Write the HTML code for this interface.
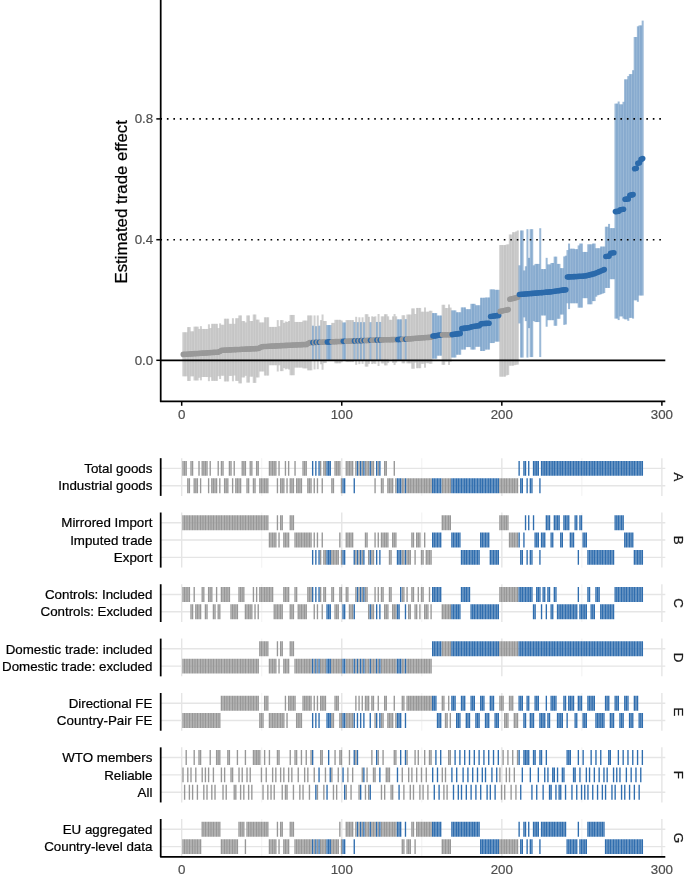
<!DOCTYPE html>
<html lang="en"><head><meta charset="utf-8"><title>Specification curve</title>
<style>html,body{margin:0;padding:0;background:#fff}svg{display:block}text{font-family:"Liberation Sans", Arial, Helvetica, sans-serif}.tk{font-size:13.33px;fill:#4D4D4D;stroke:#4D4D4D;stroke-width:0.18px}.lb{font-size:13.33px;fill:#000;stroke:#000;stroke-width:0.22px}.st{font-size:13.33px;fill:#1a1a1a;stroke:#1a1a1a;stroke-width:0.25px}.ti{font-size:16.85px;fill:#000;stroke:#000;stroke-width:0.22px}</style></head><body>
<svg width="685" height="875" viewBox="0 0 685 875">
<rect width="685" height="875" fill="#fff"/>
<g id="ci">
<g fill="#999999" fill-opacity="0.47">
<rect x="182.3" y="332.23" width="2" height="44.12"/>
<rect x="183.9" y="332.23" width="2" height="44.12"/>
<rect x="185.5" y="332.23" width="2" height="44.12"/>
<rect x="187.1" y="327.09" width="2" height="53.88"/>
<rect x="188.7" y="327.09" width="2" height="53.88"/>
<rect x="190.3" y="331.3" width="2" height="45.05"/>
<rect x="191.9" y="331.3" width="2" height="45.05"/>
<rect x="193.5" y="326.63" width="2" height="53.87"/>
<rect x="195.11" y="326.63" width="2" height="53.87"/>
<rect x="196.71" y="326.63" width="2" height="53.87"/>
<rect x="198.31" y="328.96" width="2" height="48.78"/>
<rect x="199.91" y="326.16" width="2" height="54.18"/>
<rect x="201.51" y="328.96" width="2" height="48.05"/>
<rect x="203.11" y="328.96" width="2" height="48.05"/>
<rect x="204.71" y="328.96" width="2" height="48.05"/>
<rect x="206.31" y="328.96" width="2" height="48.05"/>
<rect x="207.91" y="324.29" width="2" height="56.87"/>
<rect x="209.51" y="328.03" width="2" height="49.19"/>
<rect x="211.11" y="323.82" width="2" height="57.07"/>
<rect x="212.71" y="323.82" width="2" height="57.07"/>
<rect x="214.31" y="323.82" width="2" height="57.07"/>
<rect x="215.91" y="323.82" width="2" height="57.07"/>
<rect x="217.51" y="328.03" width="2" height="48.14"/>
<rect x="219.11" y="323.36" width="2" height="55.68"/>
<rect x="220.71" y="324.76" width="2" height="51"/>
<rect x="222.32" y="324.76" width="2" height="51"/>
<rect x="223.92" y="318.69" width="2" height="62.76"/>
<rect x="225.52" y="318.69" width="2" height="62.76"/>
<rect x="227.12" y="318.69" width="2" height="62.76"/>
<rect x="228.72" y="323.82" width="2" height="52.09"/>
<rect x="230.32" y="323.82" width="2" height="52.09"/>
<rect x="231.92" y="318.22" width="2" height="63.07"/>
<rect x="233.52" y="323.82" width="2" height="51.7"/>
<rect x="235.12" y="318.22" width="2" height="62.68"/>
<rect x="236.72" y="318.22" width="2" height="62.68"/>
<rect x="238.32" y="315.42" width="2" height="67.97"/>
<rect x="239.92" y="315.42" width="2" height="67.97"/>
<rect x="241.52" y="321.02" width="2" height="56.44"/>
<rect x="243.12" y="321.02" width="2" height="56.44"/>
<rect x="244.72" y="322.42" width="2" height="53.41"/>
<rect x="246.32" y="315.42" width="2" height="67.19"/>
<rect x="247.93" y="315.42" width="2" height="67.19"/>
<rect x="249.53" y="321.02" width="2" height="55.66"/>
<rect x="251.13" y="321.02" width="2" height="55.66"/>
<rect x="252.73" y="314.48" width="2" height="68.43"/>
<rect x="254.33" y="314.48" width="2" height="68.43"/>
<rect x="255.93" y="319.62" width="2" height="57.84"/>
<rect x="257.53" y="319.62" width="2" height="57.84"/>
<rect x="259.13" y="322.42" width="2" height="49.09"/>
<rect x="260.73" y="322.42" width="2" height="49.09"/>
<rect x="262.33" y="322.42" width="2" height="49.09"/>
<rect x="263.93" y="317.28" width="2" height="58.29"/>
<rect x="265.53" y="317.28" width="2" height="58.29"/>
<rect x="267.13" y="317.28" width="2" height="58.29"/>
<rect x="268.73" y="326.91" width="2" height="38.32"/>
<rect x="270.33" y="326.91" width="2" height="38.32"/>
<rect x="271.93" y="326.91" width="2" height="38.32"/>
<rect x="273.53" y="326.91" width="2" height="38.32"/>
<rect x="275.14" y="326.91" width="2" height="38.32"/>
<rect x="276.74" y="320.09" width="2" height="51.42"/>
<rect x="278.34" y="326.16" width="2" height="39.12"/>
<rect x="279.94" y="320.09" width="2" height="51.04"/>
<rect x="281.54" y="320.09" width="2" height="51.04"/>
<rect x="283.14" y="322.89" width="2" height="45.2"/>
<rect x="284.74" y="321.49" width="2" height="47.84"/>
<rect x="286.34" y="321.96" width="2" height="46.75"/>
<rect x="287.94" y="321.02" width="2" height="48.47"/>
<rect x="289.54" y="314.95" width="2" height="60.3"/>
<rect x="291.14" y="314.95" width="2" height="60.3"/>
<rect x="292.74" y="314.95" width="2" height="60.3"/>
<rect x="294.34" y="321.96" width="2" height="45.67"/>
<rect x="295.94" y="321.96" width="2" height="45.67"/>
<rect x="297.54" y="321.96" width="2" height="45.67"/>
<rect x="299.14" y="321.96" width="2" height="45.67"/>
<rect x="300.75" y="321.96" width="2" height="45.67"/>
<rect x="302.35" y="320.55" width="2" height="47.85"/>
<rect x="303.95" y="320.55" width="2" height="47.85"/>
<rect x="305.55" y="320.55" width="2" height="47.85"/>
<rect x="307.15" y="315.42" width="2" height="54.93"/>
<rect x="308.75" y="315.42" width="2" height="54.93"/>
<rect x="310.35" y="315.42" width="2" height="54.93"/>
</g>
<g fill="#2B6AAB" fill-opacity="0.47">
<rect x="311.95" y="325.69" width="2" height="34.21"/>
</g>
<g fill="#999999" fill-opacity="0.47">
<rect x="313.55" y="315.42" width="2" height="54.01"/>
</g>
<g fill="#2B6AAB" fill-opacity="0.47">
<rect x="315.15" y="326.16" width="2" height="33.74"/>
</g>
<g fill="#999999" fill-opacity="0.47">
<rect x="316.75" y="315.42" width="2" height="53.77"/>
</g>
<g fill="#2B6AAB" fill-opacity="0.47">
<rect x="318.35" y="325.69" width="2" height="34.21"/>
</g>
<g fill="#999999" fill-opacity="0.47">
<rect x="319.95" y="320.09" width="2" height="44.18"/>
<rect x="321.55" y="314.48" width="2" height="55.28"/>
<rect x="323.15" y="321.02" width="2" height="42.02"/>
<rect x="324.75" y="321.02" width="2" height="42.02"/>
</g>
<g fill="#2B6AAB" fill-opacity="0.47">
<rect x="326.35" y="325.04" width="2" height="34.86"/>
<rect x="327.96" y="325.04" width="2" height="34.86"/>
<rect x="329.56" y="325.04" width="2" height="34.86"/>
</g>
<g fill="#999999" fill-opacity="0.47">
<rect x="331.16" y="322.89" width="2" height="37.68"/>
<rect x="332.76" y="322.89" width="2" height="37.68"/>
<rect x="334.36" y="319.81" width="2" height="43.49"/>
<rect x="335.96" y="319.81" width="2" height="43.49"/>
<rect x="337.56" y="319.81" width="2" height="43.49"/>
<rect x="339.16" y="319.81" width="2" height="43.49"/>
<rect x="340.76" y="320.55" width="2" height="41.69"/>
</g>
<g fill="#2B6AAB" fill-opacity="0.47">
<rect x="342.36" y="322.42" width="2" height="37.48"/>
<rect x="343.96" y="322.42" width="2" height="37.48"/>
</g>
<g fill="#999999" fill-opacity="0.47">
<rect x="345.56" y="320.09" width="2" height="41.99"/>
<rect x="347.16" y="320.09" width="2" height="41.99"/>
<rect x="348.76" y="320.09" width="2" height="41.99"/>
<rect x="350.36" y="320.09" width="2" height="41.99"/>
<rect x="351.96" y="320.09" width="2" height="41.99"/>
</g>
<g fill="#2B6AAB" fill-opacity="0.47">
<rect x="353.56" y="321.96" width="2" height="37.94"/>
</g>
<g fill="#999999" fill-opacity="0.47">
<rect x="355.17" y="316.82" width="2" height="48.03"/>
</g>
<g fill="#2B6AAB" fill-opacity="0.47">
<rect x="356.77" y="322.14" width="2" height="37.76"/>
</g>
<g fill="#999999" fill-opacity="0.47">
<rect x="358.37" y="317.28" width="2" height="46.84"/>
</g>
<g fill="#2B6AAB" fill-opacity="0.47">
<rect x="359.97" y="322.14" width="2" height="37.76"/>
</g>
<g fill="#999999" fill-opacity="0.47">
<rect x="361.57" y="317.28" width="2" height="46.59"/>
</g>
<g fill="#2B6AAB" fill-opacity="0.47">
<rect x="363.17" y="322.14" width="2" height="37.76"/>
</g>
<g fill="#999999" fill-opacity="0.47">
<rect x="364.77" y="314.2" width="2" height="52.44"/>
<rect x="366.37" y="314.2" width="2" height="52.44"/>
<rect x="367.97" y="316.82" width="2" height="47.02"/>
</g>
<g fill="#2B6AAB" fill-opacity="0.47">
<rect x="369.57" y="322.14" width="2" height="37.76"/>
</g>
<g fill="#999999" fill-opacity="0.47">
<rect x="371.17" y="316.35" width="2" height="47.7"/>
<rect x="372.77" y="316.82" width="2" height="46.67"/>
<rect x="374.37" y="316.35" width="2" height="47.51"/>
</g>
<g fill="#2B6AAB" fill-opacity="0.47">
<rect x="375.97" y="321.96" width="2" height="37.94"/>
</g>
<g fill="#999999" fill-opacity="0.47">
<rect x="377.57" y="314.01" width="2" height="51.99"/>
</g>
<g fill="#2B6AAB" fill-opacity="0.47">
<rect x="379.17" y="321.96" width="2" height="37.94"/>
</g>
<g fill="#999999" fill-opacity="0.47">
<rect x="380.77" y="316.35" width="2" height="47.08"/>
<rect x="382.38" y="316.35" width="2" height="47.08"/>
<rect x="383.98" y="314.2" width="2" height="51.19"/>
<rect x="385.58" y="314.2" width="2" height="51.19"/>
<rect x="387.18" y="316.35" width="2" height="46.75"/>
<rect x="388.78" y="319.81" width="2" height="39.69"/>
<rect x="390.38" y="319.81" width="2" height="39.69"/>
<rect x="391.98" y="316.35" width="2" height="46.46"/>
<rect x="393.58" y="314.01" width="2" height="51.04"/>
<rect x="395.18" y="316.35" width="2" height="46.27"/>
</g>
<g fill="#2B6AAB" fill-opacity="0.47">
<rect x="396.78" y="319.34" width="2" height="40.56"/>
<rect x="398.38" y="319.34" width="2" height="40.56"/>
<rect x="399.98" y="319.34" width="2" height="40.56"/>
</g>
<g fill="#999999" fill-opacity="0.47">
<rect x="401.58" y="315.23" width="2" height="48.08"/>
<rect x="403.18" y="315.23" width="2" height="48.08"/>
</g>
<g fill="#2B6AAB" fill-opacity="0.47">
<rect x="404.78" y="319.15" width="2" height="40.75"/>
</g>
<g fill="#999999" fill-opacity="0.47">
<rect x="406.38" y="314.48" width="2" height="48.88"/>
<rect x="407.99" y="314.48" width="2" height="48.88"/>
<rect x="409.59" y="314.48" width="2" height="48.88"/>
<rect x="411.19" y="308.41" width="2" height="60.32"/>
<rect x="412.79" y="308.41" width="2" height="60.32"/>
<rect x="414.39" y="314.01" width="2" height="48.69"/>
<rect x="415.99" y="307.94" width="2" height="60.28"/>
<rect x="417.59" y="307.94" width="2" height="60.28"/>
<rect x="419.19" y="307.94" width="2" height="60.28"/>
<rect x="420.79" y="311.68" width="2" height="52.14"/>
<rect x="422.39" y="311.68" width="2" height="52.14"/>
<rect x="423.99" y="307.47" width="2" height="60.25"/>
<rect x="425.59" y="311.68" width="2" height="51.54"/>
<rect x="427.19" y="311.68" width="2" height="51.54"/>
<rect x="428.79" y="310.74" width="2" height="53.01"/>
<rect x="430.39" y="310.74" width="2" height="53.01"/>
</g>
<g fill="#2B6AAB" fill-opacity="0.47">
<rect x="431.99" y="313.08" width="2" height="45.64"/>
<rect x="433.59" y="313.08" width="2" height="45.64"/>
<rect x="435.2" y="313.08" width="2" height="45.64"/>
<rect x="436.8" y="315.5" width="2" height="40.18"/>
<rect x="438.4" y="315.5" width="2" height="40.18"/>
<rect x="440" y="315.5" width="2" height="40.18"/>
</g>
<g fill="#999999" fill-opacity="0.47">
<rect x="441.6" y="304.76" width="2" height="60.06"/>
<rect x="443.2" y="304.76" width="2" height="60.06"/>
<rect x="444.8" y="308.03" width="2" height="53.44"/>
<rect x="446.4" y="308.03" width="2" height="53.44"/>
<rect x="448" y="304.48" width="2" height="60.48"/>
<rect x="449.6" y="307.56" width="2" height="54.28"/>
</g>
<g fill="#2B6AAB" fill-opacity="0.47">
<rect x="451.2" y="310.36" width="2" height="47.18"/>
<rect x="452.8" y="310.36" width="2" height="47.18"/>
<rect x="454.4" y="310.36" width="2" height="47.18"/>
<rect x="456" y="312.23" width="2" height="42.51"/>
<rect x="457.6" y="312.23" width="2" height="42.51"/>
<rect x="459.2" y="312.23" width="2" height="42.51"/>
<rect x="460.81" y="307.38" width="2" height="42.23"/>
<rect x="462.41" y="307.38" width="2" height="42.23"/>
<rect x="464.01" y="307.38" width="2" height="42.23"/>
<rect x="465.61" y="309.15" width="2" height="37.93"/>
<rect x="467.21" y="309.15" width="2" height="37.93"/>
<rect x="468.81" y="309.15" width="2" height="37.93"/>
<rect x="470.41" y="303.82" width="2" height="45.78"/>
<rect x="472.01" y="303.82" width="2" height="45.78"/>
<rect x="473.61" y="303.82" width="2" height="45.78"/>
<rect x="475.21" y="305.23" width="2" height="41.58"/>
<rect x="476.81" y="305.23" width="2" height="41.58"/>
<rect x="478.41" y="305.23" width="2" height="41.58"/>
<rect x="480.01" y="297.75" width="2" height="53.26"/>
<rect x="481.61" y="297.75" width="2" height="53.26"/>
<rect x="483.21" y="297.75" width="2" height="53.26"/>
<rect x="484.81" y="297.47" width="2" height="52.13"/>
<rect x="486.41" y="297.47" width="2" height="52.13"/>
<rect x="488.02" y="297.47" width="2" height="52.13"/>
<rect x="489.62" y="289.34" width="2" height="53.72"/>
<rect x="491.22" y="289.34" width="2" height="53.72"/>
<rect x="492.82" y="289.34" width="2" height="53.72"/>
<rect x="494.42" y="289.81" width="2" height="51.85"/>
<rect x="496.02" y="289.81" width="2" height="51.85"/>
<rect x="497.62" y="289.81" width="2" height="51.85"/>
</g>
<g fill="#999999" fill-opacity="0.47">
<rect x="499.22" y="245.04" width="2" height="131.64"/>
<rect x="500.82" y="245.04" width="2" height="131.64"/>
<rect x="502.42" y="245.04" width="2" height="131.64"/>
<rect x="504.02" y="245.04" width="2" height="131.64"/>
<rect x="505.62" y="244.48" width="2" height="130.96"/>
<rect x="507.22" y="244.29" width="2" height="130.62"/>
<rect x="508.82" y="234.48" width="2" height="131.22"/>
<rect x="510.42" y="234.48" width="2" height="131.22"/>
<rect x="512.02" y="232.15" width="2" height="133.55"/>
<rect x="513.62" y="232.15" width="2" height="133.05"/>
<rect x="515.23" y="231.4" width="2" height="133.4"/>
<rect x="516.83" y="230.46" width="2" height="134.14"/>
</g>
<g fill="#2B6AAB" fill-opacity="0.47">
<rect x="518.43" y="265.31" width="2" height="58.13"/>
<rect x="520.03" y="230.46" width="2" height="127.08"/>
<rect x="521.63" y="230.46" width="2" height="127.08"/>
<rect x="523.23" y="270.45" width="2" height="46.92"/>
<rect x="524.83" y="266.25" width="2" height="54.86"/>
<rect x="526.43" y="229.16" width="2" height="128.39"/>
<rect x="528.03" y="257.84" width="2" height="70.28"/>
<rect x="529.63" y="229.16" width="2" height="127.92"/>
<rect x="531.23" y="229.16" width="2" height="127.92"/>
<rect x="532.83" y="265.31" width="2" height="55.8"/>
<rect x="534.43" y="263.91" width="2" height="58.13"/>
<rect x="536.03" y="263.91" width="2" height="58.13"/>
<rect x="537.63" y="263.91" width="2" height="58.13"/>
<rect x="539.23" y="228.22" width="2" height="128.86"/>
<rect x="540.84" y="269.05" width="2" height="46.45"/>
<rect x="542.44" y="269.05" width="2" height="46.45"/>
<rect x="544.04" y="269.05" width="2" height="46.45"/>
<rect x="545.64" y="257.84" width="2" height="68.88"/>
<rect x="547.24" y="264.38" width="2" height="55.8"/>
<rect x="548.84" y="264.38" width="2" height="55.8"/>
<rect x="550.44" y="262.98" width="2" height="57.2"/>
<rect x="552.04" y="262.98" width="2" height="57.2"/>
<rect x="553.64" y="256.62" width="2" height="69.16"/>
<rect x="555.24" y="256.62" width="2" height="69.16"/>
<rect x="556.84" y="263.91" width="2" height="54.86"/>
<rect x="558.44" y="263.91" width="2" height="54.86"/>
<rect x="560.04" y="268.12" width="2" height="46.45"/>
<rect x="561.64" y="268.12" width="2" height="46.45"/>
<rect x="563.24" y="256.44" width="2" height="68.41"/>
<rect x="564.84" y="255.68" width="2" height="68.77"/>
<rect x="566.44" y="250.07" width="2" height="53.21"/>
<rect x="568.05" y="243.53" width="2" height="65.59"/>
<rect x="569.65" y="248.67" width="2" height="54.61"/>
<rect x="571.25" y="248.67" width="2" height="54.61"/>
<rect x="572.85" y="248.67" width="2" height="54.61"/>
<rect x="574.45" y="249.14" width="2" height="54.15"/>
<rect x="576.05" y="249.14" width="2" height="54.15"/>
<rect x="577.65" y="245.4" width="2" height="62.26"/>
<rect x="579.25" y="243.53" width="2" height="64.13"/>
<rect x="580.85" y="243.53" width="2" height="64.13"/>
<rect x="582.45" y="251.94" width="2" height="46.23"/>
<rect x="584.05" y="251.94" width="2" height="46.23"/>
<rect x="585.65" y="251.94" width="2" height="46.23"/>
<rect x="587.25" y="244.28" width="2" height="60.03"/>
<rect x="588.85" y="244.28" width="2" height="60.03"/>
<rect x="590.45" y="244.28" width="2" height="60.03"/>
<rect x="592.05" y="243.53" width="2" height="57.56"/>
<rect x="593.65" y="243.53" width="2" height="57.56"/>
<rect x="595.26" y="248.2" width="2" height="48.51"/>
<rect x="596.86" y="248.2" width="2" height="47.05"/>
<rect x="598.46" y="248.2" width="2" height="46.61"/>
<rect x="600.06" y="246.52" width="2" height="47.71"/>
<rect x="601.66" y="246.52" width="2" height="47.13"/>
<rect x="603.26" y="246.52" width="2" height="46.54"/>
<rect x="604.86" y="226.72" width="2" height="61.24"/>
<rect x="606.46" y="226.72" width="2" height="61.24"/>
<rect x="608.06" y="223.91" width="2" height="64.04"/>
<rect x="609.66" y="228.12" width="2" height="51.08"/>
<rect x="611.26" y="228.12" width="2" height="51.08"/>
<rect x="612.86" y="228.12" width="2" height="51.08"/>
<rect x="614.46" y="103.6" width="2" height="215.01"/>
<rect x="616.06" y="103.6" width="2" height="215.01"/>
<rect x="617.66" y="101.5" width="2" height="218.57"/>
<rect x="619.26" y="104.3" width="2" height="212.12"/>
<rect x="620.87" y="104.3" width="2" height="212.12"/>
<rect x="622.47" y="101.8" width="2" height="216.81"/>
<rect x="624.07" y="79.3" width="2" height="240.04"/>
<rect x="625.67" y="79.3" width="2" height="240.04"/>
<rect x="627.27" y="76.1" width="2" height="244.7"/>
<rect x="628.87" y="74.1" width="2" height="243.78"/>
<rect x="630.47" y="74.1" width="2" height="243.78"/>
<rect x="632.07" y="70.2" width="2" height="248.41"/>
<rect x="633.67" y="37" width="2" height="263.36"/>
<rect x="635.27" y="37" width="2" height="263.36"/>
<rect x="636.87" y="26.3" width="2" height="275.52"/>
<rect x="638.47" y="25.4" width="2" height="270.15"/>
<rect x="640.07" y="25.4" width="2" height="270.15"/>
<rect x="641.67" y="20.6" width="2" height="274.95"/>
</g></g>
<line x1="160.7" x2="665.3" y1="360.3" y2="360.3" stroke="#000" stroke-width="1.75"/>
<line x1="160.7" x2="665.3" y1="239.7" y2="239.7" stroke="#000" stroke-width="1.62" stroke-dasharray="1.62 4.859" stroke-dashoffset="-6.19"/>
<line x1="160.7" x2="665.3" y1="118.9" y2="118.9" stroke="#000" stroke-width="1.62" stroke-dasharray="1.62 4.859" stroke-dashoffset="-6.19"/>
<g id="pts">
<circle cx="183.3" cy="354.4" r="2.8" fill="#999999"/>
<circle cx="184.9" cy="354.3" r="2.8" fill="#999999"/>
<circle cx="186.5" cy="354.19" r="2.8" fill="#999999"/>
<circle cx="188.1" cy="354.09" r="2.8" fill="#999999"/>
<circle cx="189.7" cy="353.98" r="2.8" fill="#999999"/>
<circle cx="191.3" cy="353.88" r="2.8" fill="#999999"/>
<circle cx="192.9" cy="353.77" r="2.8" fill="#999999"/>
<circle cx="194.5" cy="353.67" r="2.8" fill="#999999"/>
<circle cx="196.11" cy="353.56" r="2.8" fill="#999999"/>
<circle cx="197.71" cy="353.46" r="2.8" fill="#999999"/>
<circle cx="199.31" cy="353.35" r="2.8" fill="#999999"/>
<circle cx="200.91" cy="353.25" r="2.8" fill="#999999"/>
<circle cx="202.51" cy="353.15" r="2.8" fill="#999999"/>
<circle cx="204.11" cy="353.04" r="2.8" fill="#999999"/>
<circle cx="205.71" cy="352.94" r="2.8" fill="#999999"/>
<circle cx="207.31" cy="352.83" r="2.8" fill="#999999"/>
<circle cx="208.91" cy="352.73" r="2.8" fill="#999999"/>
<circle cx="210.51" cy="352.62" r="2.8" fill="#999999"/>
<circle cx="212.11" cy="352.52" r="2.8" fill="#999999"/>
<circle cx="213.71" cy="352.41" r="2.8" fill="#999999"/>
<circle cx="215.31" cy="352.31" r="2.8" fill="#999999"/>
<circle cx="216.91" cy="352.2" r="2.8" fill="#999999"/>
<circle cx="218.51" cy="352.1" r="2.8" fill="#999999"/>
<circle cx="220.11" cy="351.2" r="2.8" fill="#999999"/>
<circle cx="221.71" cy="350.3" r="2.8" fill="#999999"/>
<circle cx="223.32" cy="350.22" r="2.8" fill="#999999"/>
<circle cx="224.92" cy="350.14" r="2.8" fill="#999999"/>
<circle cx="226.52" cy="350.07" r="2.8" fill="#999999"/>
<circle cx="228.12" cy="349.99" r="2.8" fill="#999999"/>
<circle cx="229.72" cy="349.91" r="2.8" fill="#999999"/>
<circle cx="231.32" cy="349.83" r="2.8" fill="#999999"/>
<circle cx="232.92" cy="349.75" r="2.8" fill="#999999"/>
<circle cx="234.52" cy="349.67" r="2.8" fill="#999999"/>
<circle cx="236.12" cy="349.6" r="2.8" fill="#999999"/>
<circle cx="237.72" cy="349.52" r="2.8" fill="#999999"/>
<circle cx="239.32" cy="349.44" r="2.8" fill="#999999"/>
<circle cx="240.92" cy="349.36" r="2.8" fill="#999999"/>
<circle cx="242.52" cy="349.28" r="2.8" fill="#999999"/>
<circle cx="244.12" cy="349.2" r="2.8" fill="#999999"/>
<circle cx="245.72" cy="349.13" r="2.8" fill="#999999"/>
<circle cx="247.32" cy="349.05" r="2.8" fill="#999999"/>
<circle cx="248.93" cy="348.97" r="2.8" fill="#999999"/>
<circle cx="250.53" cy="348.89" r="2.8" fill="#999999"/>
<circle cx="252.13" cy="348.81" r="2.8" fill="#999999"/>
<circle cx="253.73" cy="348.73" r="2.8" fill="#999999"/>
<circle cx="255.33" cy="348.66" r="2.8" fill="#999999"/>
<circle cx="256.93" cy="348.58" r="2.8" fill="#999999"/>
<circle cx="258.53" cy="348.5" r="2.8" fill="#999999"/>
<circle cx="260.13" cy="347.6" r="2.8" fill="#999999"/>
<circle cx="261.73" cy="346.7" r="2.8" fill="#999999"/>
<circle cx="263.33" cy="346.61" r="2.8" fill="#999999"/>
<circle cx="264.93" cy="346.52" r="2.8" fill="#999999"/>
<circle cx="266.53" cy="346.43" r="2.8" fill="#999999"/>
<circle cx="268.13" cy="346.34" r="2.8" fill="#999999"/>
<circle cx="269.73" cy="346.25" r="2.8" fill="#999999"/>
<circle cx="271.33" cy="346.16" r="2.8" fill="#999999"/>
<circle cx="272.93" cy="346.07" r="2.8" fill="#999999"/>
<circle cx="274.53" cy="345.98" r="2.8" fill="#999999"/>
<circle cx="276.14" cy="345.89" r="2.8" fill="#999999"/>
<circle cx="277.74" cy="345.8" r="2.8" fill="#999999"/>
<circle cx="279.34" cy="345.72" r="2.8" fill="#999999"/>
<circle cx="280.94" cy="345.64" r="2.8" fill="#999999"/>
<circle cx="282.54" cy="345.57" r="2.8" fill="#999999"/>
<circle cx="284.14" cy="345.49" r="2.8" fill="#999999"/>
<circle cx="285.74" cy="345.41" r="2.8" fill="#999999"/>
<circle cx="287.34" cy="345.33" r="2.8" fill="#999999"/>
<circle cx="288.94" cy="345.26" r="2.8" fill="#999999"/>
<circle cx="290.54" cy="345.18" r="2.8" fill="#999999"/>
<circle cx="292.14" cy="345.1" r="2.8" fill="#999999"/>
<circle cx="293.74" cy="345.02" r="2.8" fill="#999999"/>
<circle cx="295.34" cy="344.94" r="2.8" fill="#999999"/>
<circle cx="296.94" cy="344.87" r="2.8" fill="#999999"/>
<circle cx="298.54" cy="344.79" r="2.8" fill="#999999"/>
<circle cx="300.14" cy="344.71" r="2.8" fill="#999999"/>
<circle cx="301.75" cy="344.63" r="2.8" fill="#999999"/>
<circle cx="303.35" cy="344.56" r="2.8" fill="#999999"/>
<circle cx="304.95" cy="344.48" r="2.8" fill="#999999"/>
<circle cx="306.55" cy="344.4" r="2.8" fill="#999999"/>
<circle cx="308.15" cy="343.5" r="2.8" fill="#999999"/>
<circle cx="309.75" cy="342.6" r="2.8" fill="#999999"/>
<circle cx="311.35" cy="342.54" r="2.8" fill="#999999"/>
<circle cx="312.95" cy="342.48" r="2.8" fill="#2B6AAB"/>
<circle cx="314.55" cy="342.42" r="2.8" fill="#999999"/>
<circle cx="316.15" cy="342.36" r="2.8" fill="#2B6AAB"/>
<circle cx="317.75" cy="342.3" r="2.8" fill="#999999"/>
<circle cx="319.35" cy="342.24" r="2.8" fill="#2B6AAB"/>
<circle cx="320.95" cy="342.18" r="2.8" fill="#999999"/>
<circle cx="322.55" cy="342.12" r="2.8" fill="#999999"/>
<circle cx="324.15" cy="342.06" r="2.8" fill="#999999"/>
<circle cx="325.75" cy="342" r="2.8" fill="#999999"/>
<circle cx="327.35" cy="341.94" r="2.8" fill="#2B6AAB"/>
<circle cx="328.96" cy="341.88" r="2.8" fill="#2B6AAB"/>
<circle cx="330.56" cy="341.82" r="2.8" fill="#2B6AAB"/>
<circle cx="332.16" cy="341.76" r="2.8" fill="#999999"/>
<circle cx="333.76" cy="341.7" r="2.8" fill="#999999"/>
<circle cx="335.36" cy="341.64" r="2.8" fill="#999999"/>
<circle cx="336.96" cy="341.58" r="2.8" fill="#999999"/>
<circle cx="338.56" cy="341.52" r="2.8" fill="#999999"/>
<circle cx="340.16" cy="341.46" r="2.8" fill="#999999"/>
<circle cx="341.76" cy="341.4" r="2.8" fill="#999999"/>
<circle cx="343.36" cy="341.34" r="2.8" fill="#2B6AAB"/>
<circle cx="344.96" cy="341.27" r="2.8" fill="#2B6AAB"/>
<circle cx="346.56" cy="341.21" r="2.8" fill="#999999"/>
<circle cx="348.16" cy="341.15" r="2.8" fill="#999999"/>
<circle cx="349.76" cy="341.08" r="2.8" fill="#999999"/>
<circle cx="351.36" cy="341.02" r="2.8" fill="#999999"/>
<circle cx="352.96" cy="340.96" r="2.8" fill="#999999"/>
<circle cx="354.56" cy="340.89" r="2.8" fill="#2B6AAB"/>
<circle cx="356.17" cy="340.83" r="2.8" fill="#999999"/>
<circle cx="357.77" cy="340.77" r="2.8" fill="#2B6AAB"/>
<circle cx="359.37" cy="340.71" r="2.8" fill="#999999"/>
<circle cx="360.97" cy="340.64" r="2.8" fill="#2B6AAB"/>
<circle cx="362.57" cy="340.58" r="2.8" fill="#999999"/>
<circle cx="364.17" cy="340.52" r="2.8" fill="#2B6AAB"/>
<circle cx="365.77" cy="340.45" r="2.8" fill="#999999"/>
<circle cx="367.37" cy="340.39" r="2.8" fill="#999999"/>
<circle cx="368.97" cy="340.33" r="2.8" fill="#999999"/>
<circle cx="370.57" cy="340.26" r="2.8" fill="#2B6AAB"/>
<circle cx="372.17" cy="340.2" r="2.8" fill="#999999"/>
<circle cx="373.77" cy="340.15" r="2.8" fill="#999999"/>
<circle cx="375.37" cy="340.1" r="2.8" fill="#999999"/>
<circle cx="376.97" cy="340.06" r="2.8" fill="#2B6AAB"/>
<circle cx="378.57" cy="340.01" r="2.8" fill="#999999"/>
<circle cx="380.17" cy="339.96" r="2.8" fill="#2B6AAB"/>
<circle cx="381.77" cy="339.91" r="2.8" fill="#999999"/>
<circle cx="383.38" cy="339.87" r="2.8" fill="#999999"/>
<circle cx="384.98" cy="339.82" r="2.8" fill="#999999"/>
<circle cx="386.58" cy="339.77" r="2.8" fill="#999999"/>
<circle cx="388.18" cy="339.72" r="2.8" fill="#999999"/>
<circle cx="389.78" cy="339.68" r="2.8" fill="#999999"/>
<circle cx="391.38" cy="339.63" r="2.8" fill="#999999"/>
<circle cx="392.98" cy="339.58" r="2.8" fill="#999999"/>
<circle cx="394.58" cy="339.53" r="2.8" fill="#999999"/>
<circle cx="396.18" cy="339.49" r="2.8" fill="#999999"/>
<circle cx="397.78" cy="339.44" r="2.8" fill="#2B6AAB"/>
<circle cx="399.38" cy="339.39" r="2.8" fill="#2B6AAB"/>
<circle cx="400.98" cy="339.34" r="2.8" fill="#2B6AAB"/>
<circle cx="402.58" cy="339.3" r="2.8" fill="#999999"/>
<circle cx="404.18" cy="339.25" r="2.8" fill="#999999"/>
<circle cx="405.78" cy="339.2" r="2.8" fill="#2B6AAB"/>
<circle cx="407.38" cy="339.06" r="2.8" fill="#999999"/>
<circle cx="408.99" cy="338.92" r="2.8" fill="#999999"/>
<circle cx="410.59" cy="338.78" r="2.8" fill="#999999"/>
<circle cx="412.19" cy="338.64" r="2.8" fill="#999999"/>
<circle cx="413.79" cy="338.5" r="2.8" fill="#999999"/>
<circle cx="415.39" cy="338.36" r="2.8" fill="#999999"/>
<circle cx="416.99" cy="338.22" r="2.8" fill="#999999"/>
<circle cx="418.59" cy="338.08" r="2.8" fill="#999999"/>
<circle cx="420.19" cy="337.94" r="2.8" fill="#999999"/>
<circle cx="421.79" cy="337.8" r="2.8" fill="#999999"/>
<circle cx="423.39" cy="337.7" r="2.8" fill="#999999"/>
<circle cx="424.99" cy="337.6" r="2.8" fill="#999999"/>
<circle cx="426.59" cy="337.5" r="2.8" fill="#999999"/>
<circle cx="428.19" cy="337.4" r="2.8" fill="#999999"/>
<circle cx="429.79" cy="337.3" r="2.8" fill="#999999"/>
<circle cx="431.39" cy="337.2" r="2.8" fill="#999999"/>
<circle cx="432.99" cy="336" r="2.8" fill="#2B6AAB"/>
<circle cx="434.59" cy="335.9" r="2.8" fill="#2B6AAB"/>
<circle cx="436.2" cy="335.8" r="2.8" fill="#2B6AAB"/>
<circle cx="437.8" cy="335.2" r="2.8" fill="#2B6AAB"/>
<circle cx="439.4" cy="335.15" r="2.8" fill="#2B6AAB"/>
<circle cx="441" cy="335.1" r="2.8" fill="#2B6AAB"/>
<circle cx="442.6" cy="334.8" r="2.8" fill="#999999"/>
<circle cx="444.2" cy="334.78" r="2.8" fill="#999999"/>
<circle cx="445.8" cy="334.76" r="2.8" fill="#999999"/>
<circle cx="447.4" cy="334.74" r="2.8" fill="#999999"/>
<circle cx="449" cy="334.72" r="2.8" fill="#999999"/>
<circle cx="450.6" cy="334.7" r="2.8" fill="#999999"/>
<circle cx="452.2" cy="334.6" r="2.8" fill="#2B6AAB"/>
<circle cx="453.8" cy="334.36" r="2.8" fill="#2B6AAB"/>
<circle cx="455.4" cy="334.12" r="2.8" fill="#2B6AAB"/>
<circle cx="457" cy="333.88" r="2.8" fill="#2B6AAB"/>
<circle cx="458.6" cy="333.64" r="2.8" fill="#2B6AAB"/>
<circle cx="460.2" cy="333.4" r="2.8" fill="#2B6AAB"/>
<circle cx="461.81" cy="328.6" r="2.8" fill="#2B6AAB"/>
<circle cx="463.41" cy="328.38" r="2.8" fill="#2B6AAB"/>
<circle cx="465.01" cy="328.16" r="2.8" fill="#2B6AAB"/>
<circle cx="466.61" cy="327.94" r="2.8" fill="#2B6AAB"/>
<circle cx="468.21" cy="327.72" r="2.8" fill="#2B6AAB"/>
<circle cx="469.81" cy="327.5" r="2.8" fill="#2B6AAB"/>
<circle cx="471.41" cy="326.7" r="2.8" fill="#2B6AAB"/>
<circle cx="473.01" cy="326.48" r="2.8" fill="#2B6AAB"/>
<circle cx="474.61" cy="326.26" r="2.8" fill="#2B6AAB"/>
<circle cx="476.21" cy="326.04" r="2.8" fill="#2B6AAB"/>
<circle cx="477.81" cy="325.82" r="2.8" fill="#2B6AAB"/>
<circle cx="479.41" cy="325.6" r="2.8" fill="#2B6AAB"/>
<circle cx="481.01" cy="323.7" r="2.8" fill="#2B6AAB"/>
<circle cx="482.61" cy="323.6" r="2.8" fill="#2B6AAB"/>
<circle cx="484.21" cy="323.5" r="2.8" fill="#2B6AAB"/>
<circle cx="485.81" cy="323.4" r="2.8" fill="#2B6AAB"/>
<circle cx="487.41" cy="323.3" r="2.8" fill="#2B6AAB"/>
<circle cx="489.02" cy="323.2" r="2.8" fill="#2B6AAB"/>
<circle cx="490.62" cy="316.5" r="2.8" fill="#2B6AAB"/>
<circle cx="492.22" cy="316.28" r="2.8" fill="#2B6AAB"/>
<circle cx="493.82" cy="316.06" r="2.8" fill="#2B6AAB"/>
<circle cx="495.42" cy="315.84" r="2.8" fill="#2B6AAB"/>
<circle cx="497.02" cy="315.62" r="2.8" fill="#2B6AAB"/>
<circle cx="498.62" cy="315.4" r="2.8" fill="#2B6AAB"/>
<circle cx="500.22" cy="311.4" r="2.8" fill="#999999"/>
<circle cx="501.82" cy="311.04" r="2.8" fill="#999999"/>
<circle cx="503.42" cy="310.68" r="2.8" fill="#999999"/>
<circle cx="505.02" cy="310.32" r="2.8" fill="#999999"/>
<circle cx="506.62" cy="309.96" r="2.8" fill="#999999"/>
<circle cx="508.22" cy="309.6" r="2.8" fill="#999999"/>
<circle cx="509.82" cy="299.2" r="2.8" fill="#999999"/>
<circle cx="511.42" cy="298.82" r="2.8" fill="#999999"/>
<circle cx="513.02" cy="298.44" r="2.8" fill="#999999"/>
<circle cx="514.62" cy="298.06" r="2.8" fill="#999999"/>
<circle cx="516.23" cy="297.68" r="2.8" fill="#999999"/>
<circle cx="517.83" cy="297.3" r="2.8" fill="#999999"/>
<circle cx="519.43" cy="294.5" r="2.8" fill="#2B6AAB"/>
<circle cx="521.03" cy="294.36" r="2.8" fill="#2B6AAB"/>
<circle cx="522.63" cy="294.23" r="2.8" fill="#2B6AAB"/>
<circle cx="524.23" cy="294.09" r="2.8" fill="#2B6AAB"/>
<circle cx="525.83" cy="293.95" r="2.8" fill="#2B6AAB"/>
<circle cx="527.43" cy="293.82" r="2.8" fill="#2B6AAB"/>
<circle cx="529.03" cy="293.68" r="2.8" fill="#2B6AAB"/>
<circle cx="530.63" cy="293.54" r="2.8" fill="#2B6AAB"/>
<circle cx="532.23" cy="293.41" r="2.8" fill="#2B6AAB"/>
<circle cx="533.83" cy="293.27" r="2.8" fill="#2B6AAB"/>
<circle cx="535.43" cy="293.13" r="2.8" fill="#2B6AAB"/>
<circle cx="537.03" cy="292.99" r="2.8" fill="#2B6AAB"/>
<circle cx="538.63" cy="292.86" r="2.8" fill="#2B6AAB"/>
<circle cx="540.23" cy="292.72" r="2.8" fill="#2B6AAB"/>
<circle cx="541.84" cy="292.58" r="2.8" fill="#2B6AAB"/>
<circle cx="543.44" cy="292.45" r="2.8" fill="#2B6AAB"/>
<circle cx="545.04" cy="292.31" r="2.8" fill="#2B6AAB"/>
<circle cx="546.64" cy="292.17" r="2.8" fill="#2B6AAB"/>
<circle cx="548.24" cy="292.04" r="2.8" fill="#2B6AAB"/>
<circle cx="549.84" cy="291.9" r="2.8" fill="#2B6AAB"/>
<circle cx="551.44" cy="291.68" r="2.8" fill="#2B6AAB"/>
<circle cx="553.04" cy="291.46" r="2.8" fill="#2B6AAB"/>
<circle cx="554.64" cy="291.24" r="2.8" fill="#2B6AAB"/>
<circle cx="556.24" cy="291.02" r="2.8" fill="#2B6AAB"/>
<circle cx="557.84" cy="290.8" r="2.8" fill="#2B6AAB"/>
<circle cx="559.44" cy="290.58" r="2.8" fill="#2B6AAB"/>
<circle cx="561.04" cy="290.36" r="2.8" fill="#2B6AAB"/>
<circle cx="562.64" cy="290.14" r="2.8" fill="#2B6AAB"/>
<circle cx="564.24" cy="289.92" r="2.8" fill="#2B6AAB"/>
<circle cx="565.84" cy="289.7" r="2.8" fill="#2B6AAB"/>
<circle cx="567.44" cy="277" r="2.8" fill="#2B6AAB"/>
<circle cx="569.05" cy="276.91" r="2.8" fill="#2B6AAB"/>
<circle cx="570.65" cy="276.82" r="2.8" fill="#2B6AAB"/>
<circle cx="572.25" cy="276.73" r="2.8" fill="#2B6AAB"/>
<circle cx="573.85" cy="276.64" r="2.8" fill="#2B6AAB"/>
<circle cx="575.45" cy="276.55" r="2.8" fill="#2B6AAB"/>
<circle cx="577.05" cy="276.45" r="2.8" fill="#2B6AAB"/>
<circle cx="578.65" cy="276.36" r="2.8" fill="#2B6AAB"/>
<circle cx="580.25" cy="276.27" r="2.8" fill="#2B6AAB"/>
<circle cx="581.85" cy="276.18" r="2.8" fill="#2B6AAB"/>
<circle cx="583.45" cy="276.09" r="2.8" fill="#2B6AAB"/>
<circle cx="585.05" cy="276" r="2.8" fill="#2B6AAB"/>
<circle cx="586.65" cy="275.6" r="2.8" fill="#2B6AAB"/>
<circle cx="588.25" cy="275.2" r="2.8" fill="#2B6AAB"/>
<circle cx="589.85" cy="274.8" r="2.8" fill="#2B6AAB"/>
<circle cx="591.45" cy="274.4" r="2.8" fill="#2B6AAB"/>
<circle cx="593.05" cy="274" r="2.8" fill="#2B6AAB"/>
<circle cx="594.65" cy="273.6" r="2.8" fill="#2B6AAB"/>
<circle cx="596.26" cy="272.93" r="2.8" fill="#2B6AAB"/>
<circle cx="597.86" cy="272.27" r="2.8" fill="#2B6AAB"/>
<circle cx="599.46" cy="271.6" r="2.8" fill="#2B6AAB"/>
<circle cx="601.06" cy="270.93" r="2.8" fill="#2B6AAB"/>
<circle cx="602.66" cy="270.27" r="2.8" fill="#2B6AAB"/>
<circle cx="604.26" cy="269.6" r="2.8" fill="#2B6AAB"/>
<circle cx="605.86" cy="256.5" r="2.8" fill="#2B6AAB"/>
<circle cx="607.46" cy="256.3" r="2.8" fill="#2B6AAB"/>
<circle cx="609.06" cy="256.1" r="2.8" fill="#2B6AAB"/>
<circle cx="610.66" cy="253.2" r="2.8" fill="#2B6AAB"/>
<circle cx="612.26" cy="253" r="2.8" fill="#2B6AAB"/>
<circle cx="613.86" cy="252.8" r="2.8" fill="#2B6AAB"/>
<circle cx="615.46" cy="211.6" r="2.8" fill="#2B6AAB"/>
<circle cx="617.06" cy="211.4" r="2.8" fill="#2B6AAB"/>
<circle cx="618.66" cy="211.2" r="2.8" fill="#2B6AAB"/>
<circle cx="620.26" cy="209.8" r="2.8" fill="#2B6AAB"/>
<circle cx="621.87" cy="209.5" r="2.8" fill="#2B6AAB"/>
<circle cx="623.47" cy="209.2" r="2.8" fill="#2B6AAB"/>
<circle cx="625.07" cy="199.3" r="2.8" fill="#2B6AAB"/>
<circle cx="626.67" cy="199.1" r="2.8" fill="#2B6AAB"/>
<circle cx="628.27" cy="198.9" r="2.8" fill="#2B6AAB"/>
<circle cx="629.87" cy="195.2" r="2.8" fill="#2B6AAB"/>
<circle cx="631.47" cy="194.9" r="2.8" fill="#2B6AAB"/>
<circle cx="633.07" cy="194.6" r="2.8" fill="#2B6AAB"/>
<circle cx="634.67" cy="168.7" r="2.8" fill="#2B6AAB"/>
<circle cx="636.27" cy="168.3" r="2.8" fill="#2B6AAB"/>
<circle cx="637.87" cy="163.3" r="2.8" fill="#2B6AAB"/>
<circle cx="639.47" cy="162.8" r="2.8" fill="#2B6AAB"/>
<circle cx="641.07" cy="159.4" r="2.8" fill="#2B6AAB"/>
<circle cx="642.67" cy="158.6" r="2.8" fill="#2B6AAB"/>
</g>
<path d="M160.7 0V401.4H665.3" fill="none" stroke="#000" stroke-width="1.75" stroke-linejoin="round"/>
<line x1="156.3" x2="160.7" y1="360.3" y2="360.3" stroke="#000" stroke-width="1.5"/>
<line x1="156.3" x2="160.7" y1="239.7" y2="239.7" stroke="#000" stroke-width="1.5"/>
<line x1="156.3" x2="160.7" y1="118.9" y2="118.9" stroke="#000" stroke-width="1.5"/>
<line x1="181.7" x2="181.7" y1="401.4" y2="405.8" stroke="#000" stroke-width="1.5"/>
<text class="tk" x="181.7" y="418.9" text-anchor="middle">0</text>
<line x1="341.76" x2="341.76" y1="401.4" y2="405.8" stroke="#000" stroke-width="1.5"/>
<text class="tk" x="341.76" y="418.9" text-anchor="middle">100</text>
<line x1="501.82" x2="501.82" y1="401.4" y2="405.8" stroke="#000" stroke-width="1.5"/>
<text class="tk" x="501.82" y="418.9" text-anchor="middle">200</text>
<line x1="661.88" x2="661.88" y1="401.4" y2="405.8" stroke="#000" stroke-width="1.5"/>
<text class="tk" x="661.88" y="418.9" text-anchor="middle">300</text>
<text class="tk" x="153.2" y="364.5" text-anchor="end">0.0</text>
<text class="tk" x="153.2" y="243.9" text-anchor="end">0.4</text>
<text class="tk" x="153.2" y="123.1" text-anchor="end">0.8</text>
<text class="ti" transform="translate(126.6 201.8) rotate(-90)" text-anchor="middle">Estimated trade effect</text>
<g id="panelA">
<line x1="261.73" x2="261.73" y1="458.15" y2="495.9" stroke="#eeeeee" stroke-width="0.75"/>
<line x1="421.79" x2="421.79" y1="458.15" y2="495.9" stroke="#eeeeee" stroke-width="0.75"/>
<line x1="581.85" x2="581.85" y1="458.15" y2="495.9" stroke="#eeeeee" stroke-width="0.75"/>
<line x1="181.7" x2="181.7" y1="458.15" y2="495.9" stroke="#e5e5e5" stroke-width="1.4"/>
<line x1="341.76" x2="341.76" y1="458.15" y2="495.9" stroke="#e5e5e5" stroke-width="1.4"/>
<line x1="501.82" x2="501.82" y1="458.15" y2="495.9" stroke="#e5e5e5" stroke-width="1.4"/>
<line x1="661.88" x2="661.88" y1="458.15" y2="495.9" stroke="#e5e5e5" stroke-width="1.4"/>
<line x1="160.7" x2="665.3" y1="468.35" y2="468.35" stroke="#e5e5e5" stroke-width="1.4"/>
<line x1="160.7" x2="665.3" y1="485.7" y2="485.7" stroke="#e5e5e5" stroke-width="1.4"/>
<path d="M183 460.9v14.9M184.6 460.9v14.9M186.2 460.9v14.9M191 460.9v14.9M192.6 460.9v14.9M199.01 460.9v14.9M202.21 460.9v14.9M203.81 460.9v14.9M205.41 460.9v14.9M207.01 460.9v14.9M210.21 460.9v14.9M218.21 460.9v14.9M221.41 460.9v14.9M223.02 460.9v14.9M229.42 460.9v14.9M231.02 460.9v14.9M234.22 460.9v14.9M242.22 460.9v14.9M243.82 460.9v14.9M245.42 460.9v14.9M250.23 460.9v14.9M251.83 460.9v14.9M256.63 460.9v14.9M258.23 460.9v14.9M269.43 460.9v14.9M271.03 460.9v14.9M272.63 460.9v14.9M274.23 460.9v14.9M275.84 460.9v14.9M279.04 460.9v14.9M285.44 460.9v14.9M288.64 460.9v14.9M295.04 460.9v14.9M303.05 460.9v14.9M304.65 460.9v14.9M306.25 460.9v14.9M320.65 460.9v14.9M323.85 460.9v14.9M325.45 460.9v14.9M335.06 460.9v14.9M336.66 460.9v14.9M338.26 460.9v14.9M339.86 460.9v14.9M346.26 460.9v14.9M347.86 460.9v14.9M349.46 460.9v14.9M351.06 460.9v14.9M352.66 460.9v14.9M355.87 460.9v14.9M359.07 460.9v14.9M362.27 460.9v14.9M365.47 460.9v14.9M367.07 460.9v14.9M368.67 460.9v14.9M371.87 460.9v14.9M373.47 460.9v14.9M378.27 460.9v14.9M384.68 460.9v14.9M386.28 460.9v14.9M394.28 460.9v14.9" stroke="#979797" stroke-width="1.35" fill="none"/>
<path d="M312.65 460.9v14.9M315.85 460.9v14.9M319.05 460.9v14.9M327.05 460.9v14.9M328.66 460.9v14.9M330.26 460.9v14.9M357.47 460.9v14.9M360.67 460.9v14.9M363.87 460.9v14.9M370.27 460.9v14.9M376.67 460.9v14.9M379.87 460.9v14.9M519.13 460.9v14.9M523.93 460.9v14.9M525.53 460.9v14.9M528.73 460.9v14.9M533.53 460.9v14.9M535.13 460.9v14.9M536.73 460.9v14.9M538.33 460.9v14.9M541.54 460.9v14.9M543.14 460.9v14.9M544.74 460.9v14.9M546.34 460.9v14.9M547.94 460.9v14.9M549.54 460.9v14.9M551.14 460.9v14.9M552.74 460.9v14.9M554.34 460.9v14.9M555.94 460.9v14.9M557.54 460.9v14.9M559.14 460.9v14.9M560.74 460.9v14.9M562.34 460.9v14.9M563.94 460.9v14.9M565.54 460.9v14.9M567.14 460.9v14.9M568.75 460.9v14.9M570.35 460.9v14.9M571.95 460.9v14.9M573.55 460.9v14.9M575.15 460.9v14.9M576.75 460.9v14.9M578.35 460.9v14.9M579.95 460.9v14.9M581.55 460.9v14.9M583.15 460.9v14.9M584.75 460.9v14.9M586.35 460.9v14.9M587.95 460.9v14.9M589.55 460.9v14.9M591.15 460.9v14.9M592.75 460.9v14.9M594.35 460.9v14.9M595.96 460.9v14.9M597.56 460.9v14.9M599.16 460.9v14.9M600.76 460.9v14.9M602.36 460.9v14.9M603.96 460.9v14.9M605.56 460.9v14.9M607.16 460.9v14.9M608.76 460.9v14.9M610.36 460.9v14.9M611.96 460.9v14.9M613.56 460.9v14.9M615.16 460.9v14.9M616.76 460.9v14.9M618.36 460.9v14.9M619.96 460.9v14.9M621.57 460.9v14.9M623.17 460.9v14.9M624.77 460.9v14.9M626.37 460.9v14.9M627.97 460.9v14.9M629.57 460.9v14.9M631.17 460.9v14.9M632.77 460.9v14.9M634.37 460.9v14.9M635.97 460.9v14.9M637.57 460.9v14.9M639.17 460.9v14.9M640.77 460.9v14.9M642.37 460.9v14.9" stroke="#2F6DAE" stroke-width="1.35" fill="none"/>
<text class="lb" x="152.4" y="473.05" text-anchor="end">Total goods</text>
<path d="M187.8 478.25v14.9M189.4 478.25v14.9M194.2 478.25v14.9M195.81 478.25v14.9M197.41 478.25v14.9M200.61 478.25v14.9M208.61 478.25v14.9M211.81 478.25v14.9M213.41 478.25v14.9M215.01 478.25v14.9M216.61 478.25v14.9M219.81 478.25v14.9M224.62 478.25v14.9M226.22 478.25v14.9M227.82 478.25v14.9M232.62 478.25v14.9M235.82 478.25v14.9M237.42 478.25v14.9M239.02 478.25v14.9M240.62 478.25v14.9M247.02 478.25v14.9M248.63 478.25v14.9M253.43 478.25v14.9M255.03 478.25v14.9M259.83 478.25v14.9M261.43 478.25v14.9M263.03 478.25v14.9M264.63 478.25v14.9M266.23 478.25v14.9M267.83 478.25v14.9M277.44 478.25v14.9M280.64 478.25v14.9M282.24 478.25v14.9M283.84 478.25v14.9M287.04 478.25v14.9M290.24 478.25v14.9M291.84 478.25v14.9M293.44 478.25v14.9M296.64 478.25v14.9M298.24 478.25v14.9M299.84 478.25v14.9M301.44 478.25v14.9M307.85 478.25v14.9M309.45 478.25v14.9M311.05 478.25v14.9M314.25 478.25v14.9M317.45 478.25v14.9M322.25 478.25v14.9M331.86 478.25v14.9M333.46 478.25v14.9M341.46 478.25v14.9M375.07 478.25v14.9M381.47 478.25v14.9M383.08 478.25v14.9M387.88 478.25v14.9M389.48 478.25v14.9M391.08 478.25v14.9M392.68 478.25v14.9M395.88 478.25v14.9M402.28 478.25v14.9M403.88 478.25v14.9M407.08 478.25v14.9M408.69 478.25v14.9M410.29 478.25v14.9M411.89 478.25v14.9M413.49 478.25v14.9M415.09 478.25v14.9M416.69 478.25v14.9M418.29 478.25v14.9M419.89 478.25v14.9M421.49 478.25v14.9M423.09 478.25v14.9M424.69 478.25v14.9M426.29 478.25v14.9M427.89 478.25v14.9M429.49 478.25v14.9M431.09 478.25v14.9M442.3 478.25v14.9M443.9 478.25v14.9M445.5 478.25v14.9M447.1 478.25v14.9M448.7 478.25v14.9M450.3 478.25v14.9M499.92 478.25v14.9M501.52 478.25v14.9M503.12 478.25v14.9M504.72 478.25v14.9M506.32 478.25v14.9M507.92 478.25v14.9M509.52 478.25v14.9M511.12 478.25v14.9M512.72 478.25v14.9M514.32 478.25v14.9M515.93 478.25v14.9M517.53 478.25v14.9" stroke="#979797" stroke-width="1.35" fill="none"/>
<path d="M343.06 478.25v14.9M344.66 478.25v14.9M354.26 478.25v14.9M397.48 478.25v14.9M399.08 478.25v14.9M400.68 478.25v14.9M405.48 478.25v14.9M432.69 478.25v14.9M434.29 478.25v14.9M435.9 478.25v14.9M437.5 478.25v14.9M439.1 478.25v14.9M440.7 478.25v14.9M451.9 478.25v14.9M453.5 478.25v14.9M455.1 478.25v14.9M456.7 478.25v14.9M458.3 478.25v14.9M459.9 478.25v14.9M461.5 478.25v14.9M463.11 478.25v14.9M464.71 478.25v14.9M466.31 478.25v14.9M467.91 478.25v14.9M469.51 478.25v14.9M471.11 478.25v14.9M472.71 478.25v14.9M474.31 478.25v14.9M475.91 478.25v14.9M477.51 478.25v14.9M479.11 478.25v14.9M480.71 478.25v14.9M482.31 478.25v14.9M483.91 478.25v14.9M485.51 478.25v14.9M487.11 478.25v14.9M488.72 478.25v14.9M490.32 478.25v14.9M491.92 478.25v14.9M493.52 478.25v14.9M495.12 478.25v14.9M496.72 478.25v14.9M498.32 478.25v14.9M520.73 478.25v14.9M522.33 478.25v14.9M527.13 478.25v14.9M530.33 478.25v14.9M531.93 478.25v14.9M539.93 478.25v14.9" stroke="#2F6DAE" stroke-width="1.35" fill="none"/>
<text class="lb" x="152.4" y="490.4" text-anchor="end">Industrial goods</text>
<line x1="160.7" x2="160.7" y1="458.15" y2="495.9" stroke="#000" stroke-width="1.75"/>
<text class="st" transform="translate(673.6 477.02) rotate(90)" text-anchor="middle">A</text>
</g>
<g id="panelB">
<line x1="261.73" x2="261.73" y1="512.52" y2="567.62" stroke="#eeeeee" stroke-width="0.75"/>
<line x1="421.79" x2="421.79" y1="512.52" y2="567.62" stroke="#eeeeee" stroke-width="0.75"/>
<line x1="581.85" x2="581.85" y1="512.52" y2="567.62" stroke="#eeeeee" stroke-width="0.75"/>
<line x1="181.7" x2="181.7" y1="512.52" y2="567.62" stroke="#e5e5e5" stroke-width="1.4"/>
<line x1="341.76" x2="341.76" y1="512.52" y2="567.62" stroke="#e5e5e5" stroke-width="1.4"/>
<line x1="501.82" x2="501.82" y1="512.52" y2="567.62" stroke="#e5e5e5" stroke-width="1.4"/>
<line x1="661.88" x2="661.88" y1="512.52" y2="567.62" stroke="#e5e5e5" stroke-width="1.4"/>
<line x1="160.7" x2="665.3" y1="522.72" y2="522.72" stroke="#e5e5e5" stroke-width="1.4"/>
<line x1="160.7" x2="665.3" y1="540.07" y2="540.07" stroke="#e5e5e5" stroke-width="1.4"/>
<line x1="160.7" x2="665.3" y1="557.42" y2="557.42" stroke="#e5e5e5" stroke-width="1.4"/>
<path d="M183 515.27v14.9M184.6 515.27v14.9M186.2 515.27v14.9M187.8 515.27v14.9M189.4 515.27v14.9M191 515.27v14.9M192.6 515.27v14.9M194.2 515.27v14.9M195.81 515.27v14.9M197.41 515.27v14.9M199.01 515.27v14.9M200.61 515.27v14.9M202.21 515.27v14.9M203.81 515.27v14.9M205.41 515.27v14.9M207.01 515.27v14.9M208.61 515.27v14.9M210.21 515.27v14.9M211.81 515.27v14.9M213.41 515.27v14.9M215.01 515.27v14.9M216.61 515.27v14.9M218.21 515.27v14.9M219.81 515.27v14.9M221.41 515.27v14.9M223.02 515.27v14.9M224.62 515.27v14.9M226.22 515.27v14.9M227.82 515.27v14.9M229.42 515.27v14.9M231.02 515.27v14.9M232.62 515.27v14.9M234.22 515.27v14.9M235.82 515.27v14.9M237.42 515.27v14.9M239.02 515.27v14.9M240.62 515.27v14.9M242.22 515.27v14.9M243.82 515.27v14.9M245.42 515.27v14.9M247.02 515.27v14.9M248.63 515.27v14.9M250.23 515.27v14.9M251.83 515.27v14.9M253.43 515.27v14.9M255.03 515.27v14.9M256.63 515.27v14.9M258.23 515.27v14.9M259.83 515.27v14.9M261.43 515.27v14.9M263.03 515.27v14.9M264.63 515.27v14.9M266.23 515.27v14.9M267.83 515.27v14.9M277.44 515.27v14.9M280.64 515.27v14.9M282.24 515.27v14.9M290.24 515.27v14.9M291.84 515.27v14.9M293.44 515.27v14.9M442.3 515.27v14.9M443.9 515.27v14.9M445.5 515.27v14.9M447.1 515.27v14.9M448.7 515.27v14.9M450.3 515.27v14.9M499.92 515.27v14.9M501.52 515.27v14.9M503.12 515.27v14.9M504.72 515.27v14.9M506.32 515.27v14.9M507.92 515.27v14.9" stroke="#979797" stroke-width="1.35" fill="none"/>
<path d="M525.53 515.27v14.9M528.73 515.27v14.9M533.53 515.27v14.9M546.34 515.27v14.9M547.94 515.27v14.9M549.54 515.27v14.9M554.34 515.27v14.9M555.94 515.27v14.9M557.54 515.27v14.9M559.14 515.27v14.9M563.94 515.27v14.9M565.54 515.27v14.9M567.14 515.27v14.9M568.75 515.27v14.9M575.15 515.27v14.9M576.75 515.27v14.9M579.95 515.27v14.9M581.55 515.27v14.9M615.16 515.27v14.9M616.76 515.27v14.9M618.36 515.27v14.9M619.96 515.27v14.9M621.57 515.27v14.9M623.17 515.27v14.9" stroke="#2F6DAE" stroke-width="1.35" fill="none"/>
<text class="lb" x="152.4" y="527.42" text-anchor="end">Mirrored Import</text>
<path d="M269.43 532.62v14.9M271.03 532.62v14.9M272.63 532.62v14.9M274.23 532.62v14.9M275.84 532.62v14.9M279.04 532.62v14.9M283.84 532.62v14.9M285.44 532.62v14.9M287.04 532.62v14.9M288.64 532.62v14.9M295.04 532.62v14.9M296.64 532.62v14.9M298.24 532.62v14.9M299.84 532.62v14.9M301.44 532.62v14.9M303.05 532.62v14.9M304.65 532.62v14.9M306.25 532.62v14.9M307.85 532.62v14.9M309.45 532.62v14.9M311.05 532.62v14.9M314.25 532.62v14.9M317.45 532.62v14.9M322.25 532.62v14.9M339.86 532.62v14.9M346.26 532.62v14.9M347.86 532.62v14.9M349.46 532.62v14.9M351.06 532.62v14.9M352.66 532.62v14.9M365.47 532.62v14.9M367.07 532.62v14.9M375.07 532.62v14.9M378.27 532.62v14.9M381.47 532.62v14.9M383.08 532.62v14.9M384.68 532.62v14.9M386.28 532.62v14.9M387.88 532.62v14.9M392.68 532.62v14.9M394.28 532.62v14.9M395.88 532.62v14.9M411.89 532.62v14.9M413.49 532.62v14.9M416.69 532.62v14.9M418.29 532.62v14.9M419.89 532.62v14.9M424.69 532.62v14.9M509.52 532.62v14.9M511.12 532.62v14.9M512.72 532.62v14.9M514.32 532.62v14.9M515.93 532.62v14.9M517.53 532.62v14.9" stroke="#979797" stroke-width="1.35" fill="none"/>
<path d="M432.69 532.62v14.9M434.29 532.62v14.9M435.9 532.62v14.9M437.5 532.62v14.9M439.1 532.62v14.9M440.7 532.62v14.9M451.9 532.62v14.9M453.5 532.62v14.9M455.1 532.62v14.9M456.7 532.62v14.9M458.3 532.62v14.9M459.9 532.62v14.9M480.71 532.62v14.9M482.31 532.62v14.9M483.91 532.62v14.9M485.51 532.62v14.9M487.11 532.62v14.9M488.72 532.62v14.9M519.13 532.62v14.9M523.93 532.62v14.9M535.13 532.62v14.9M536.73 532.62v14.9M538.33 532.62v14.9M541.54 532.62v14.9M543.14 532.62v14.9M544.74 532.62v14.9M551.14 532.62v14.9M552.74 532.62v14.9M560.74 532.62v14.9M562.34 532.62v14.9M570.35 532.62v14.9M571.95 532.62v14.9M573.55 532.62v14.9M583.15 532.62v14.9M584.75 532.62v14.9M586.35 532.62v14.9M624.77 532.62v14.9M626.37 532.62v14.9M627.97 532.62v14.9M629.57 532.62v14.9M631.17 532.62v14.9M632.77 532.62v14.9" stroke="#2F6DAE" stroke-width="1.35" fill="none"/>
<text class="lb" x="152.4" y="544.77" text-anchor="end">Imputed trade</text>
<path d="M320.65 549.97v14.9M323.85 549.97v14.9M325.45 549.97v14.9M331.86 549.97v14.9M333.46 549.97v14.9M335.06 549.97v14.9M336.66 549.97v14.9M338.26 549.97v14.9M341.46 549.97v14.9M355.87 549.97v14.9M359.07 549.97v14.9M362.27 549.97v14.9M368.67 549.97v14.9M371.87 549.97v14.9M373.47 549.97v14.9M389.48 549.97v14.9M391.08 549.97v14.9M402.28 549.97v14.9M403.88 549.97v14.9M407.08 549.97v14.9M408.69 549.97v14.9M410.29 549.97v14.9M415.09 549.97v14.9M421.49 549.97v14.9M423.09 549.97v14.9M426.29 549.97v14.9M427.89 549.97v14.9M429.49 549.97v14.9M431.09 549.97v14.9" stroke="#979797" stroke-width="1.35" fill="none"/>
<path d="M312.65 549.97v14.9M315.85 549.97v14.9M319.05 549.97v14.9M327.05 549.97v14.9M328.66 549.97v14.9M330.26 549.97v14.9M343.06 549.97v14.9M344.66 549.97v14.9M354.26 549.97v14.9M357.47 549.97v14.9M360.67 549.97v14.9M363.87 549.97v14.9M370.27 549.97v14.9M376.67 549.97v14.9M379.87 549.97v14.9M397.48 549.97v14.9M399.08 549.97v14.9M400.68 549.97v14.9M405.48 549.97v14.9M461.5 549.97v14.9M463.11 549.97v14.9M464.71 549.97v14.9M466.31 549.97v14.9M467.91 549.97v14.9M469.51 549.97v14.9M471.11 549.97v14.9M472.71 549.97v14.9M474.31 549.97v14.9M475.91 549.97v14.9M477.51 549.97v14.9M479.11 549.97v14.9M490.32 549.97v14.9M491.92 549.97v14.9M493.52 549.97v14.9M495.12 549.97v14.9M496.72 549.97v14.9M498.32 549.97v14.9M520.73 549.97v14.9M522.33 549.97v14.9M527.13 549.97v14.9M530.33 549.97v14.9M531.93 549.97v14.9M539.93 549.97v14.9M578.35 549.97v14.9M587.95 549.97v14.9M589.55 549.97v14.9M591.15 549.97v14.9M592.75 549.97v14.9M594.35 549.97v14.9M595.96 549.97v14.9M597.56 549.97v14.9M599.16 549.97v14.9M600.76 549.97v14.9M602.36 549.97v14.9M603.96 549.97v14.9M605.56 549.97v14.9M607.16 549.97v14.9M608.76 549.97v14.9M610.36 549.97v14.9M611.96 549.97v14.9M613.56 549.97v14.9M634.37 549.97v14.9M635.97 549.97v14.9M637.57 549.97v14.9M639.17 549.97v14.9M640.77 549.97v14.9M642.37 549.97v14.9" stroke="#2F6DAE" stroke-width="1.35" fill="none"/>
<text class="lb" x="152.4" y="562.12" text-anchor="end">Export</text>
<line x1="160.7" x2="160.7" y1="512.52" y2="567.62" stroke="#000" stroke-width="1.75"/>
<text class="st" transform="translate(673.6 540.07) rotate(90)" text-anchor="middle">B</text>
</g>
<g id="panelC">
<line x1="261.73" x2="261.73" y1="584.24" y2="621.99" stroke="#eeeeee" stroke-width="0.75"/>
<line x1="421.79" x2="421.79" y1="584.24" y2="621.99" stroke="#eeeeee" stroke-width="0.75"/>
<line x1="581.85" x2="581.85" y1="584.24" y2="621.99" stroke="#eeeeee" stroke-width="0.75"/>
<line x1="181.7" x2="181.7" y1="584.24" y2="621.99" stroke="#e5e5e5" stroke-width="1.4"/>
<line x1="341.76" x2="341.76" y1="584.24" y2="621.99" stroke="#e5e5e5" stroke-width="1.4"/>
<line x1="501.82" x2="501.82" y1="584.24" y2="621.99" stroke="#e5e5e5" stroke-width="1.4"/>
<line x1="661.88" x2="661.88" y1="584.24" y2="621.99" stroke="#e5e5e5" stroke-width="1.4"/>
<line x1="160.7" x2="665.3" y1="594.44" y2="594.44" stroke="#e5e5e5" stroke-width="1.4"/>
<line x1="160.7" x2="665.3" y1="611.79" y2="611.79" stroke="#e5e5e5" stroke-width="1.4"/>
<path d="M183 586.99v14.9M184.6 586.99v14.9M186.2 586.99v14.9M187.8 586.99v14.9M189.4 586.99v14.9M194.2 586.99v14.9M202.21 586.99v14.9M203.81 586.99v14.9M208.61 586.99v14.9M210.21 586.99v14.9M211.81 586.99v14.9M216.61 586.99v14.9M221.41 586.99v14.9M223.02 586.99v14.9M224.62 586.99v14.9M226.22 586.99v14.9M227.82 586.99v14.9M229.42 586.99v14.9M239.02 586.99v14.9M240.62 586.99v14.9M242.22 586.99v14.9M243.82 586.99v14.9M253.43 586.99v14.9M256.63 586.99v14.9M259.83 586.99v14.9M261.43 586.99v14.9M263.03 586.99v14.9M264.63 586.99v14.9M266.23 586.99v14.9M267.83 586.99v14.9M269.43 586.99v14.9M271.03 586.99v14.9M272.63 586.99v14.9M283.84 586.99v14.9M285.44 586.99v14.9M287.04 586.99v14.9M288.64 586.99v14.9M295.04 586.99v14.9M296.64 586.99v14.9M307.85 586.99v14.9M309.45 586.99v14.9M311.05 586.99v14.9M320.65 586.99v14.9M323.85 586.99v14.9M325.45 586.99v14.9M331.86 586.99v14.9M333.46 586.99v14.9M339.86 586.99v14.9M341.46 586.99v14.9M346.26 586.99v14.9M347.86 586.99v14.9M355.87 586.99v14.9M359.07 586.99v14.9M362.27 586.99v14.9M365.47 586.99v14.9M367.07 586.99v14.9M375.07 586.99v14.9M378.27 586.99v14.9M381.47 586.99v14.9M383.08 586.99v14.9M389.48 586.99v14.9M391.08 586.99v14.9M402.28 586.99v14.9M403.88 586.99v14.9M407.08 586.99v14.9M411.89 586.99v14.9M413.49 586.99v14.9M418.29 586.99v14.9M421.49 586.99v14.9M423.09 586.99v14.9M429.49 586.99v14.9M499.92 586.99v14.9M501.52 586.99v14.9M503.12 586.99v14.9M504.72 586.99v14.9M506.32 586.99v14.9M507.92 586.99v14.9M509.52 586.99v14.9M511.12 586.99v14.9M512.72 586.99v14.9M514.32 586.99v14.9M515.93 586.99v14.9M517.53 586.99v14.9" stroke="#979797" stroke-width="1.35" fill="none"/>
<path d="M312.65 586.99v14.9M315.85 586.99v14.9M319.05 586.99v14.9M357.47 586.99v14.9M360.67 586.99v14.9M363.87 586.99v14.9M400.68 586.99v14.9M432.69 586.99v14.9M434.29 586.99v14.9M435.9 586.99v14.9M437.5 586.99v14.9M439.1 586.99v14.9M440.7 586.99v14.9M461.5 586.99v14.9M463.11 586.99v14.9M464.71 586.99v14.9M466.31 586.99v14.9M467.91 586.99v14.9M469.51 586.99v14.9M519.13 586.99v14.9M520.73 586.99v14.9M522.33 586.99v14.9M523.93 586.99v14.9M525.53 586.99v14.9M527.13 586.99v14.9M528.73 586.99v14.9M530.33 586.99v14.9M531.93 586.99v14.9M536.73 586.99v14.9M538.33 586.99v14.9M539.93 586.99v14.9M543.14 586.99v14.9M544.74 586.99v14.9M547.94 586.99v14.9M549.54 586.99v14.9M554.34 586.99v14.9M555.94 586.99v14.9M578.35 586.99v14.9M587.95 586.99v14.9M589.55 586.99v14.9M595.96 586.99v14.9M597.56 586.99v14.9M599.16 586.99v14.9M615.16 586.99v14.9M616.76 586.99v14.9M618.36 586.99v14.9M619.96 586.99v14.9M621.57 586.99v14.9M623.17 586.99v14.9M624.77 586.99v14.9M626.37 586.99v14.9M627.97 586.99v14.9M629.57 586.99v14.9M631.17 586.99v14.9M632.77 586.99v14.9M634.37 586.99v14.9M635.97 586.99v14.9M637.57 586.99v14.9M639.17 586.99v14.9M640.77 586.99v14.9M642.37 586.99v14.9" stroke="#2F6DAE" stroke-width="1.35" fill="none"/>
<text class="lb" x="152.4" y="599.14" text-anchor="end">Controls: Included</text>
<path d="M191 604.34v14.9M192.6 604.34v14.9M195.81 604.34v14.9M197.41 604.34v14.9M199.01 604.34v14.9M200.61 604.34v14.9M205.41 604.34v14.9M207.01 604.34v14.9M213.41 604.34v14.9M215.01 604.34v14.9M218.21 604.34v14.9M219.81 604.34v14.9M231.02 604.34v14.9M232.62 604.34v14.9M234.22 604.34v14.9M235.82 604.34v14.9M237.42 604.34v14.9M245.42 604.34v14.9M247.02 604.34v14.9M248.63 604.34v14.9M250.23 604.34v14.9M251.83 604.34v14.9M255.03 604.34v14.9M258.23 604.34v14.9M274.23 604.34v14.9M275.84 604.34v14.9M277.44 604.34v14.9M279.04 604.34v14.9M280.64 604.34v14.9M282.24 604.34v14.9M290.24 604.34v14.9M291.84 604.34v14.9M293.44 604.34v14.9M298.24 604.34v14.9M299.84 604.34v14.9M301.44 604.34v14.9M303.05 604.34v14.9M304.65 604.34v14.9M306.25 604.34v14.9M314.25 604.34v14.9M317.45 604.34v14.9M322.25 604.34v14.9M335.06 604.34v14.9M336.66 604.34v14.9M338.26 604.34v14.9M349.46 604.34v14.9M351.06 604.34v14.9M352.66 604.34v14.9M368.67 604.34v14.9M371.87 604.34v14.9M373.47 604.34v14.9M384.68 604.34v14.9M386.28 604.34v14.9M387.88 604.34v14.9M392.68 604.34v14.9M394.28 604.34v14.9M395.88 604.34v14.9M408.69 604.34v14.9M410.29 604.34v14.9M415.09 604.34v14.9M416.69 604.34v14.9M419.89 604.34v14.9M424.69 604.34v14.9M426.29 604.34v14.9M427.89 604.34v14.9M431.09 604.34v14.9M442.3 604.34v14.9M443.9 604.34v14.9M445.5 604.34v14.9M447.1 604.34v14.9M448.7 604.34v14.9M450.3 604.34v14.9" stroke="#979797" stroke-width="1.35" fill="none"/>
<path d="M327.05 604.34v14.9M328.66 604.34v14.9M330.26 604.34v14.9M343.06 604.34v14.9M344.66 604.34v14.9M354.26 604.34v14.9M370.27 604.34v14.9M376.67 604.34v14.9M379.87 604.34v14.9M397.48 604.34v14.9M399.08 604.34v14.9M405.48 604.34v14.9M451.9 604.34v14.9M453.5 604.34v14.9M455.1 604.34v14.9M456.7 604.34v14.9M458.3 604.34v14.9M459.9 604.34v14.9M471.11 604.34v14.9M472.71 604.34v14.9M474.31 604.34v14.9M475.91 604.34v14.9M477.51 604.34v14.9M479.11 604.34v14.9M480.71 604.34v14.9M482.31 604.34v14.9M483.91 604.34v14.9M485.51 604.34v14.9M487.11 604.34v14.9M488.72 604.34v14.9M490.32 604.34v14.9M491.92 604.34v14.9M493.52 604.34v14.9M495.12 604.34v14.9M496.72 604.34v14.9M498.32 604.34v14.9M533.53 604.34v14.9M535.13 604.34v14.9M541.54 604.34v14.9M546.34 604.34v14.9M551.14 604.34v14.9M552.74 604.34v14.9M557.54 604.34v14.9M559.14 604.34v14.9M560.74 604.34v14.9M562.34 604.34v14.9M563.94 604.34v14.9M565.54 604.34v14.9M567.14 604.34v14.9M568.75 604.34v14.9M570.35 604.34v14.9M571.95 604.34v14.9M573.55 604.34v14.9M575.15 604.34v14.9M576.75 604.34v14.9M579.95 604.34v14.9M581.55 604.34v14.9M583.15 604.34v14.9M584.75 604.34v14.9M586.35 604.34v14.9M591.15 604.34v14.9M592.75 604.34v14.9M594.35 604.34v14.9M600.76 604.34v14.9M602.36 604.34v14.9M603.96 604.34v14.9M605.56 604.34v14.9M607.16 604.34v14.9M608.76 604.34v14.9M610.36 604.34v14.9M611.96 604.34v14.9M613.56 604.34v14.9" stroke="#2F6DAE" stroke-width="1.35" fill="none"/>
<text class="lb" x="152.4" y="616.49" text-anchor="end">Controls: Excluded</text>
<line x1="160.7" x2="160.7" y1="584.24" y2="621.99" stroke="#000" stroke-width="1.75"/>
<text class="st" transform="translate(673.6 603.12) rotate(90)" text-anchor="middle">C</text>
</g>
<g id="panelD">
<line x1="261.73" x2="261.73" y1="638.61" y2="676.36" stroke="#eeeeee" stroke-width="0.75"/>
<line x1="421.79" x2="421.79" y1="638.61" y2="676.36" stroke="#eeeeee" stroke-width="0.75"/>
<line x1="581.85" x2="581.85" y1="638.61" y2="676.36" stroke="#eeeeee" stroke-width="0.75"/>
<line x1="181.7" x2="181.7" y1="638.61" y2="676.36" stroke="#e5e5e5" stroke-width="1.4"/>
<line x1="341.76" x2="341.76" y1="638.61" y2="676.36" stroke="#e5e5e5" stroke-width="1.4"/>
<line x1="501.82" x2="501.82" y1="638.61" y2="676.36" stroke="#e5e5e5" stroke-width="1.4"/>
<line x1="661.88" x2="661.88" y1="638.61" y2="676.36" stroke="#e5e5e5" stroke-width="1.4"/>
<line x1="160.7" x2="665.3" y1="648.81" y2="648.81" stroke="#e5e5e5" stroke-width="1.4"/>
<line x1="160.7" x2="665.3" y1="666.16" y2="666.16" stroke="#e5e5e5" stroke-width="1.4"/>
<path d="M259.83 641.36v14.9M261.43 641.36v14.9M263.03 641.36v14.9M264.63 641.36v14.9M266.23 641.36v14.9M267.83 641.36v14.9M277.44 641.36v14.9M280.64 641.36v14.9M282.24 641.36v14.9M290.24 641.36v14.9M291.84 641.36v14.9M293.44 641.36v14.9M442.3 641.36v14.9M443.9 641.36v14.9M445.5 641.36v14.9M447.1 641.36v14.9M448.7 641.36v14.9M450.3 641.36v14.9M499.92 641.36v14.9M501.52 641.36v14.9M503.12 641.36v14.9M504.72 641.36v14.9M506.32 641.36v14.9M507.92 641.36v14.9M509.52 641.36v14.9M511.12 641.36v14.9M512.72 641.36v14.9M514.32 641.36v14.9M515.93 641.36v14.9M517.53 641.36v14.9" stroke="#979797" stroke-width="1.35" fill="none"/>
<path d="M432.69 641.36v14.9M434.29 641.36v14.9M435.9 641.36v14.9M437.5 641.36v14.9M439.1 641.36v14.9M440.7 641.36v14.9M451.9 641.36v14.9M453.5 641.36v14.9M455.1 641.36v14.9M456.7 641.36v14.9M458.3 641.36v14.9M459.9 641.36v14.9M461.5 641.36v14.9M463.11 641.36v14.9M464.71 641.36v14.9M466.31 641.36v14.9M467.91 641.36v14.9M469.51 641.36v14.9M471.11 641.36v14.9M472.71 641.36v14.9M474.31 641.36v14.9M475.91 641.36v14.9M477.51 641.36v14.9M479.11 641.36v14.9M480.71 641.36v14.9M482.31 641.36v14.9M483.91 641.36v14.9M485.51 641.36v14.9M487.11 641.36v14.9M488.72 641.36v14.9M490.32 641.36v14.9M491.92 641.36v14.9M493.52 641.36v14.9M495.12 641.36v14.9M496.72 641.36v14.9M498.32 641.36v14.9M519.13 641.36v14.9M520.73 641.36v14.9M522.33 641.36v14.9M523.93 641.36v14.9M525.53 641.36v14.9M527.13 641.36v14.9M528.73 641.36v14.9M530.33 641.36v14.9M531.93 641.36v14.9M533.53 641.36v14.9M535.13 641.36v14.9M536.73 641.36v14.9M538.33 641.36v14.9M539.93 641.36v14.9M541.54 641.36v14.9M543.14 641.36v14.9M544.74 641.36v14.9M546.34 641.36v14.9M547.94 641.36v14.9M549.54 641.36v14.9M551.14 641.36v14.9M552.74 641.36v14.9M554.34 641.36v14.9M555.94 641.36v14.9M557.54 641.36v14.9M559.14 641.36v14.9M560.74 641.36v14.9M562.34 641.36v14.9M563.94 641.36v14.9M565.54 641.36v14.9M567.14 641.36v14.9M568.75 641.36v14.9M570.35 641.36v14.9M571.95 641.36v14.9M573.55 641.36v14.9M575.15 641.36v14.9M576.75 641.36v14.9M578.35 641.36v14.9M579.95 641.36v14.9M581.55 641.36v14.9M583.15 641.36v14.9M584.75 641.36v14.9M586.35 641.36v14.9M587.95 641.36v14.9M589.55 641.36v14.9M591.15 641.36v14.9M592.75 641.36v14.9M594.35 641.36v14.9M595.96 641.36v14.9M597.56 641.36v14.9M599.16 641.36v14.9M600.76 641.36v14.9M602.36 641.36v14.9M603.96 641.36v14.9M605.56 641.36v14.9M607.16 641.36v14.9M608.76 641.36v14.9M610.36 641.36v14.9M611.96 641.36v14.9M613.56 641.36v14.9M615.16 641.36v14.9M616.76 641.36v14.9M618.36 641.36v14.9M619.96 641.36v14.9M621.57 641.36v14.9M623.17 641.36v14.9M624.77 641.36v14.9M626.37 641.36v14.9M627.97 641.36v14.9M629.57 641.36v14.9M631.17 641.36v14.9M632.77 641.36v14.9M634.37 641.36v14.9M635.97 641.36v14.9M637.57 641.36v14.9M639.17 641.36v14.9M640.77 641.36v14.9M642.37 641.36v14.9" stroke="#2F6DAE" stroke-width="1.35" fill="none"/>
<text class="lb" x="152.4" y="653.51" text-anchor="end">Domestic trade: included</text>
<path d="M183 658.71v14.9M184.6 658.71v14.9M186.2 658.71v14.9M187.8 658.71v14.9M189.4 658.71v14.9M191 658.71v14.9M192.6 658.71v14.9M194.2 658.71v14.9M195.81 658.71v14.9M197.41 658.71v14.9M199.01 658.71v14.9M200.61 658.71v14.9M202.21 658.71v14.9M203.81 658.71v14.9M205.41 658.71v14.9M207.01 658.71v14.9M208.61 658.71v14.9M210.21 658.71v14.9M211.81 658.71v14.9M213.41 658.71v14.9M215.01 658.71v14.9M216.61 658.71v14.9M218.21 658.71v14.9M219.81 658.71v14.9M221.41 658.71v14.9M223.02 658.71v14.9M224.62 658.71v14.9M226.22 658.71v14.9M227.82 658.71v14.9M229.42 658.71v14.9M231.02 658.71v14.9M232.62 658.71v14.9M234.22 658.71v14.9M235.82 658.71v14.9M237.42 658.71v14.9M239.02 658.71v14.9M240.62 658.71v14.9M242.22 658.71v14.9M243.82 658.71v14.9M245.42 658.71v14.9M247.02 658.71v14.9M248.63 658.71v14.9M250.23 658.71v14.9M251.83 658.71v14.9M253.43 658.71v14.9M255.03 658.71v14.9M256.63 658.71v14.9M258.23 658.71v14.9M269.43 658.71v14.9M271.03 658.71v14.9M272.63 658.71v14.9M274.23 658.71v14.9M275.84 658.71v14.9M279.04 658.71v14.9M283.84 658.71v14.9M285.44 658.71v14.9M287.04 658.71v14.9M288.64 658.71v14.9M295.04 658.71v14.9M296.64 658.71v14.9M298.24 658.71v14.9M299.84 658.71v14.9M301.44 658.71v14.9M303.05 658.71v14.9M304.65 658.71v14.9M306.25 658.71v14.9M307.85 658.71v14.9M309.45 658.71v14.9M311.05 658.71v14.9M314.25 658.71v14.9M317.45 658.71v14.9M320.65 658.71v14.9M322.25 658.71v14.9M323.85 658.71v14.9M325.45 658.71v14.9M331.86 658.71v14.9M333.46 658.71v14.9M335.06 658.71v14.9M336.66 658.71v14.9M338.26 658.71v14.9M339.86 658.71v14.9M341.46 658.71v14.9M346.26 658.71v14.9M347.86 658.71v14.9M349.46 658.71v14.9M351.06 658.71v14.9M352.66 658.71v14.9M355.87 658.71v14.9M359.07 658.71v14.9M362.27 658.71v14.9M365.47 658.71v14.9M367.07 658.71v14.9M368.67 658.71v14.9M371.87 658.71v14.9M373.47 658.71v14.9M375.07 658.71v14.9M378.27 658.71v14.9M381.47 658.71v14.9M383.08 658.71v14.9M384.68 658.71v14.9M386.28 658.71v14.9M387.88 658.71v14.9M389.48 658.71v14.9M391.08 658.71v14.9M392.68 658.71v14.9M394.28 658.71v14.9M395.88 658.71v14.9M402.28 658.71v14.9M403.88 658.71v14.9M407.08 658.71v14.9M408.69 658.71v14.9M410.29 658.71v14.9M411.89 658.71v14.9M413.49 658.71v14.9M415.09 658.71v14.9M416.69 658.71v14.9M418.29 658.71v14.9M419.89 658.71v14.9M421.49 658.71v14.9M423.09 658.71v14.9M424.69 658.71v14.9M426.29 658.71v14.9M427.89 658.71v14.9M429.49 658.71v14.9M431.09 658.71v14.9" stroke="#979797" stroke-width="1.35" fill="none"/>
<path d="M312.65 658.71v14.9M315.85 658.71v14.9M319.05 658.71v14.9M327.05 658.71v14.9M328.66 658.71v14.9M330.26 658.71v14.9M343.06 658.71v14.9M344.66 658.71v14.9M354.26 658.71v14.9M357.47 658.71v14.9M360.67 658.71v14.9M363.87 658.71v14.9M370.27 658.71v14.9M376.67 658.71v14.9M379.87 658.71v14.9M397.48 658.71v14.9M399.08 658.71v14.9M400.68 658.71v14.9M405.48 658.71v14.9" stroke="#2F6DAE" stroke-width="1.35" fill="none"/>
<text class="lb" x="152.4" y="670.86" text-anchor="end">Domestic trade: excluded</text>
<line x1="160.7" x2="160.7" y1="638.61" y2="676.36" stroke="#000" stroke-width="1.75"/>
<text class="st" transform="translate(673.6 657.49) rotate(90)" text-anchor="middle">D</text>
</g>
<g id="panelE">
<line x1="261.73" x2="261.73" y1="692.98" y2="730.73" stroke="#eeeeee" stroke-width="0.75"/>
<line x1="421.79" x2="421.79" y1="692.98" y2="730.73" stroke="#eeeeee" stroke-width="0.75"/>
<line x1="581.85" x2="581.85" y1="692.98" y2="730.73" stroke="#eeeeee" stroke-width="0.75"/>
<line x1="181.7" x2="181.7" y1="692.98" y2="730.73" stroke="#e5e5e5" stroke-width="1.4"/>
<line x1="341.76" x2="341.76" y1="692.98" y2="730.73" stroke="#e5e5e5" stroke-width="1.4"/>
<line x1="501.82" x2="501.82" y1="692.98" y2="730.73" stroke="#e5e5e5" stroke-width="1.4"/>
<line x1="661.88" x2="661.88" y1="692.98" y2="730.73" stroke="#e5e5e5" stroke-width="1.4"/>
<line x1="160.7" x2="665.3" y1="703.18" y2="703.18" stroke="#e5e5e5" stroke-width="1.4"/>
<line x1="160.7" x2="665.3" y1="720.53" y2="720.53" stroke="#e5e5e5" stroke-width="1.4"/>
<path d="M221.41 695.73v14.9M223.02 695.73v14.9M224.62 695.73v14.9M226.22 695.73v14.9M227.82 695.73v14.9M229.42 695.73v14.9M231.02 695.73v14.9M232.62 695.73v14.9M234.22 695.73v14.9M235.82 695.73v14.9M237.42 695.73v14.9M239.02 695.73v14.9M240.62 695.73v14.9M242.22 695.73v14.9M243.82 695.73v14.9M245.42 695.73v14.9M247.02 695.73v14.9M248.63 695.73v14.9M250.23 695.73v14.9M251.83 695.73v14.9M253.43 695.73v14.9M255.03 695.73v14.9M256.63 695.73v14.9M258.23 695.73v14.9M264.63 695.73v14.9M266.23 695.73v14.9M267.83 695.73v14.9M285.44 695.73v14.9M288.64 695.73v14.9M290.24 695.73v14.9M291.84 695.73v14.9M293.44 695.73v14.9M295.04 695.73v14.9M303.05 695.73v14.9M304.65 695.73v14.9M306.25 695.73v14.9M307.85 695.73v14.9M309.45 695.73v14.9M311.05 695.73v14.9M314.25 695.73v14.9M317.45 695.73v14.9M320.65 695.73v14.9M322.25 695.73v14.9M323.85 695.73v14.9M325.45 695.73v14.9M335.06 695.73v14.9M336.66 695.73v14.9M338.26 695.73v14.9M355.87 695.73v14.9M359.07 695.73v14.9M362.27 695.73v14.9M365.47 695.73v14.9M367.07 695.73v14.9M368.67 695.73v14.9M371.87 695.73v14.9M373.47 695.73v14.9M378.27 695.73v14.9M384.68 695.73v14.9M386.28 695.73v14.9M394.28 695.73v14.9M402.28 695.73v14.9M403.88 695.73v14.9M407.08 695.73v14.9M408.69 695.73v14.9M410.29 695.73v14.9M411.89 695.73v14.9M413.49 695.73v14.9M415.09 695.73v14.9M416.69 695.73v14.9M418.29 695.73v14.9M419.89 695.73v14.9M421.49 695.73v14.9M423.09 695.73v14.9M424.69 695.73v14.9M426.29 695.73v14.9M427.89 695.73v14.9M429.49 695.73v14.9M431.09 695.73v14.9M442.3 695.73v14.9M443.9 695.73v14.9M448.7 695.73v14.9M499.92 695.73v14.9M501.52 695.73v14.9M503.12 695.73v14.9M509.52 695.73v14.9M511.12 695.73v14.9M512.72 695.73v14.9" stroke="#979797" stroke-width="1.35" fill="none"/>
<path d="M432.69 695.73v14.9M434.29 695.73v14.9M435.9 695.73v14.9M451.9 695.73v14.9M453.5 695.73v14.9M455.1 695.73v14.9M461.5 695.73v14.9M463.11 695.73v14.9M464.71 695.73v14.9M471.11 695.73v14.9M472.71 695.73v14.9M474.31 695.73v14.9M480.71 695.73v14.9M482.31 695.73v14.9M483.91 695.73v14.9M490.32 695.73v14.9M491.92 695.73v14.9M493.52 695.73v14.9M519.13 695.73v14.9M520.73 695.73v14.9M522.33 695.73v14.9M527.13 695.73v14.9M528.73 695.73v14.9M535.13 695.73v14.9M536.73 695.73v14.9M538.33 695.73v14.9M546.34 695.73v14.9M551.14 695.73v14.9M552.74 695.73v14.9M554.34 695.73v14.9M555.94 695.73v14.9M563.94 695.73v14.9M565.54 695.73v14.9M568.75 695.73v14.9M570.35 695.73v14.9M571.95 695.73v14.9M573.55 695.73v14.9M578.35 695.73v14.9M579.95 695.73v14.9M581.55 695.73v14.9M587.95 695.73v14.9M589.55 695.73v14.9M591.15 695.73v14.9M592.75 695.73v14.9M594.35 695.73v14.9M605.56 695.73v14.9M607.16 695.73v14.9M608.76 695.73v14.9M615.16 695.73v14.9M616.76 695.73v14.9M618.36 695.73v14.9M624.77 695.73v14.9M626.37 695.73v14.9M627.97 695.73v14.9M634.37 695.73v14.9M635.97 695.73v14.9M637.57 695.73v14.9" stroke="#2F6DAE" stroke-width="1.35" fill="none"/>
<text class="lb" x="152.4" y="707.88" text-anchor="end">Directional FE</text>
<path d="M183 713.08v14.9M184.6 713.08v14.9M186.2 713.08v14.9M187.8 713.08v14.9M189.4 713.08v14.9M191 713.08v14.9M192.6 713.08v14.9M194.2 713.08v14.9M195.81 713.08v14.9M197.41 713.08v14.9M199.01 713.08v14.9M200.61 713.08v14.9M202.21 713.08v14.9M203.81 713.08v14.9M205.41 713.08v14.9M207.01 713.08v14.9M208.61 713.08v14.9M210.21 713.08v14.9M211.81 713.08v14.9M213.41 713.08v14.9M215.01 713.08v14.9M216.61 713.08v14.9M218.21 713.08v14.9M219.81 713.08v14.9M259.83 713.08v14.9M261.43 713.08v14.9M263.03 713.08v14.9M269.43 713.08v14.9M271.03 713.08v14.9M272.63 713.08v14.9M274.23 713.08v14.9M275.84 713.08v14.9M277.44 713.08v14.9M279.04 713.08v14.9M280.64 713.08v14.9M282.24 713.08v14.9M283.84 713.08v14.9M287.04 713.08v14.9M296.64 713.08v14.9M298.24 713.08v14.9M299.84 713.08v14.9M301.44 713.08v14.9M331.86 713.08v14.9M333.46 713.08v14.9M339.86 713.08v14.9M341.46 713.08v14.9M346.26 713.08v14.9M347.86 713.08v14.9M349.46 713.08v14.9M351.06 713.08v14.9M352.66 713.08v14.9M375.07 713.08v14.9M381.47 713.08v14.9M383.08 713.08v14.9M387.88 713.08v14.9M389.48 713.08v14.9M391.08 713.08v14.9M392.68 713.08v14.9M395.88 713.08v14.9M445.5 713.08v14.9M447.1 713.08v14.9M450.3 713.08v14.9M504.72 713.08v14.9M506.32 713.08v14.9M507.92 713.08v14.9M514.32 713.08v14.9M515.93 713.08v14.9M517.53 713.08v14.9" stroke="#979797" stroke-width="1.35" fill="none"/>
<path d="M312.65 713.08v14.9M315.85 713.08v14.9M319.05 713.08v14.9M327.05 713.08v14.9M328.66 713.08v14.9M330.26 713.08v14.9M343.06 713.08v14.9M344.66 713.08v14.9M354.26 713.08v14.9M357.47 713.08v14.9M360.67 713.08v14.9M363.87 713.08v14.9M370.27 713.08v14.9M376.67 713.08v14.9M379.87 713.08v14.9M397.48 713.08v14.9M399.08 713.08v14.9M400.68 713.08v14.9M405.48 713.08v14.9M437.5 713.08v14.9M439.1 713.08v14.9M440.7 713.08v14.9M456.7 713.08v14.9M458.3 713.08v14.9M459.9 713.08v14.9M466.31 713.08v14.9M467.91 713.08v14.9M469.51 713.08v14.9M475.91 713.08v14.9M477.51 713.08v14.9M479.11 713.08v14.9M485.51 713.08v14.9M487.11 713.08v14.9M488.72 713.08v14.9M495.12 713.08v14.9M496.72 713.08v14.9M498.32 713.08v14.9M523.93 713.08v14.9M525.53 713.08v14.9M530.33 713.08v14.9M531.93 713.08v14.9M533.53 713.08v14.9M539.93 713.08v14.9M541.54 713.08v14.9M543.14 713.08v14.9M544.74 713.08v14.9M547.94 713.08v14.9M549.54 713.08v14.9M557.54 713.08v14.9M559.14 713.08v14.9M560.74 713.08v14.9M562.34 713.08v14.9M567.14 713.08v14.9M575.15 713.08v14.9M576.75 713.08v14.9M583.15 713.08v14.9M584.75 713.08v14.9M586.35 713.08v14.9M595.96 713.08v14.9M597.56 713.08v14.9M599.16 713.08v14.9M600.76 713.08v14.9M602.36 713.08v14.9M603.96 713.08v14.9M610.36 713.08v14.9M611.96 713.08v14.9M613.56 713.08v14.9M619.96 713.08v14.9M621.57 713.08v14.9M623.17 713.08v14.9M629.57 713.08v14.9M631.17 713.08v14.9M632.77 713.08v14.9M639.17 713.08v14.9M640.77 713.08v14.9M642.37 713.08v14.9" stroke="#2F6DAE" stroke-width="1.35" fill="none"/>
<text class="lb" x="152.4" y="725.23" text-anchor="end">Country-Pair FE</text>
<line x1="160.7" x2="160.7" y1="692.98" y2="730.73" stroke="#000" stroke-width="1.75"/>
<text class="st" transform="translate(673.6 711.86) rotate(90)" text-anchor="middle">E</text>
</g>
<g id="panelF">
<line x1="261.73" x2="261.73" y1="747.35" y2="802.45" stroke="#eeeeee" stroke-width="0.75"/>
<line x1="421.79" x2="421.79" y1="747.35" y2="802.45" stroke="#eeeeee" stroke-width="0.75"/>
<line x1="581.85" x2="581.85" y1="747.35" y2="802.45" stroke="#eeeeee" stroke-width="0.75"/>
<line x1="181.7" x2="181.7" y1="747.35" y2="802.45" stroke="#e5e5e5" stroke-width="1.4"/>
<line x1="341.76" x2="341.76" y1="747.35" y2="802.45" stroke="#e5e5e5" stroke-width="1.4"/>
<line x1="501.82" x2="501.82" y1="747.35" y2="802.45" stroke="#e5e5e5" stroke-width="1.4"/>
<line x1="661.88" x2="661.88" y1="747.35" y2="802.45" stroke="#e5e5e5" stroke-width="1.4"/>
<line x1="160.7" x2="665.3" y1="757.55" y2="757.55" stroke="#e5e5e5" stroke-width="1.4"/>
<line x1="160.7" x2="665.3" y1="774.9" y2="774.9" stroke="#e5e5e5" stroke-width="1.4"/>
<line x1="160.7" x2="665.3" y1="792.25" y2="792.25" stroke="#e5e5e5" stroke-width="1.4"/>
<path d="M186.2 750.1v14.9M194.2 750.1v14.9M199.01 750.1v14.9M200.61 750.1v14.9M210.21 750.1v14.9M216.61 750.1v14.9M218.21 750.1v14.9M219.81 750.1v14.9M227.82 750.1v14.9M229.42 750.1v14.9M237.42 750.1v14.9M245.42 750.1v14.9M253.43 750.1v14.9M255.03 750.1v14.9M256.63 750.1v14.9M258.23 750.1v14.9M259.83 750.1v14.9M264.63 750.1v14.9M269.43 750.1v14.9M277.44 750.1v14.9M279.04 750.1v14.9M290.24 750.1v14.9M295.04 750.1v14.9M296.64 750.1v14.9M301.44 750.1v14.9M306.25 750.1v14.9M311.05 750.1v14.9M320.65 750.1v14.9M322.25 750.1v14.9M335.06 750.1v14.9M339.86 750.1v14.9M341.46 750.1v14.9M349.46 750.1v14.9M355.87 750.1v14.9M371.87 750.1v14.9M378.27 750.1v14.9M383.08 750.1v14.9M394.28 750.1v14.9M395.88 750.1v14.9M407.08 750.1v14.9M415.09 750.1v14.9M418.29 750.1v14.9M424.69 750.1v14.9M429.49 750.1v14.9M431.09 750.1v14.9M448.7 750.1v14.9M450.3 750.1v14.9M503.12 750.1v14.9M507.92 750.1v14.9M512.72 750.1v14.9M517.53 750.1v14.9" stroke="#979797" stroke-width="1.35" fill="none"/>
<path d="M312.65 750.1v14.9M328.66 750.1v14.9M354.26 750.1v14.9M357.47 750.1v14.9M376.67 750.1v14.9M400.68 750.1v14.9M405.48 750.1v14.9M435.9 750.1v14.9M440.7 750.1v14.9M455.1 750.1v14.9M459.9 750.1v14.9M464.71 750.1v14.9M469.51 750.1v14.9M474.31 750.1v14.9M479.11 750.1v14.9M483.91 750.1v14.9M488.72 750.1v14.9M493.52 750.1v14.9M498.32 750.1v14.9M519.13 750.1v14.9M523.93 750.1v14.9M525.53 750.1v14.9M527.13 750.1v14.9M528.73 750.1v14.9M533.53 750.1v14.9M535.13 750.1v14.9M539.93 750.1v14.9M541.54 750.1v14.9M546.34 750.1v14.9M567.14 750.1v14.9M568.75 750.1v14.9M570.35 750.1v14.9M578.35 750.1v14.9M583.15 750.1v14.9M591.15 750.1v14.9M595.96 750.1v14.9M600.76 750.1v14.9M608.76 750.1v14.9M610.36 750.1v14.9M618.36 750.1v14.9M623.17 750.1v14.9M627.97 750.1v14.9M632.77 750.1v14.9M637.57 750.1v14.9M642.37 750.1v14.9" stroke="#2F6DAE" stroke-width="1.35" fill="none"/>
<text class="lb" x="152.4" y="762.25" text-anchor="end">WTO members</text>
<path d="M183 767.45v14.9M187.8 767.45v14.9M191 767.45v14.9M195.81 767.45v14.9M202.21 767.45v14.9M205.41 767.45v14.9M208.61 767.45v14.9M213.41 767.45v14.9M221.41 767.45v14.9M224.62 767.45v14.9M231.02 767.45v14.9M232.62 767.45v14.9M239.02 767.45v14.9M242.22 767.45v14.9M247.02 767.45v14.9M250.23 767.45v14.9M261.43 767.45v14.9M266.23 767.45v14.9M272.63 767.45v14.9M275.84 767.45v14.9M280.64 767.45v14.9M283.84 767.45v14.9M288.64 767.45v14.9M291.84 767.45v14.9M298.24 767.45v14.9M304.65 767.45v14.9M307.85 767.45v14.9M314.25 767.45v14.9M325.45 767.45v14.9M331.86 767.45v14.9M338.26 767.45v14.9M347.86 767.45v14.9M352.66 767.45v14.9M362.27 767.45v14.9M367.07 767.45v14.9M373.47 767.45v14.9M375.07 767.45v14.9M386.28 767.45v14.9M387.88 767.45v14.9M389.48 767.45v14.9M402.28 767.45v14.9M408.69 767.45v14.9M411.89 767.45v14.9M416.69 767.45v14.9M421.49 767.45v14.9M426.29 767.45v14.9M442.3 767.45v14.9M445.5 767.45v14.9M499.92 767.45v14.9M506.32 767.45v14.9M509.52 767.45v14.9M514.32 767.45v14.9" stroke="#979797" stroke-width="1.35" fill="none"/>
<path d="M319.05 767.45v14.9M330.26 767.45v14.9M343.06 767.45v14.9M363.87 767.45v14.9M379.87 767.45v14.9M397.48 767.45v14.9M432.69 767.45v14.9M437.5 767.45v14.9M451.9 767.45v14.9M456.7 767.45v14.9M463.11 767.45v14.9M467.91 767.45v14.9M472.71 767.45v14.9M477.51 767.45v14.9M482.31 767.45v14.9M485.51 767.45v14.9M491.92 767.45v14.9M496.72 767.45v14.9M522.33 767.45v14.9M530.33 767.45v14.9M538.33 767.45v14.9M544.74 767.45v14.9M547.94 767.45v14.9M552.74 767.45v14.9M554.34 767.45v14.9M557.54 767.45v14.9M562.34 767.45v14.9M563.94 767.45v14.9M573.55 767.45v14.9M575.15 767.45v14.9M579.95 767.45v14.9M586.35 767.45v14.9M589.55 767.45v14.9M594.35 767.45v14.9M599.16 767.45v14.9M603.96 767.45v14.9M607.16 767.45v14.9M613.56 767.45v14.9M616.76 767.45v14.9M619.96 767.45v14.9M626.37 767.45v14.9M631.17 767.45v14.9M635.97 767.45v14.9M640.77 767.45v14.9" stroke="#2F6DAE" stroke-width="1.35" fill="none"/>
<text class="lb" x="152.4" y="779.6" text-anchor="end">Reliable</text>
<path d="M184.6 784.8v14.9M189.4 784.8v14.9M192.6 784.8v14.9M197.41 784.8v14.9M203.81 784.8v14.9M207.01 784.8v14.9M211.81 784.8v14.9M215.01 784.8v14.9M223.02 784.8v14.9M226.22 784.8v14.9M234.22 784.8v14.9M235.82 784.8v14.9M240.62 784.8v14.9M243.82 784.8v14.9M248.63 784.8v14.9M251.83 784.8v14.9M263.03 784.8v14.9M267.83 784.8v14.9M271.03 784.8v14.9M274.23 784.8v14.9M282.24 784.8v14.9M285.44 784.8v14.9M287.04 784.8v14.9M293.44 784.8v14.9M299.84 784.8v14.9M303.05 784.8v14.9M309.45 784.8v14.9M317.45 784.8v14.9M323.85 784.8v14.9M333.46 784.8v14.9M336.66 784.8v14.9M346.26 784.8v14.9M351.06 784.8v14.9M359.07 784.8v14.9M365.47 784.8v14.9M368.67 784.8v14.9M381.47 784.8v14.9M384.68 784.8v14.9M391.08 784.8v14.9M392.68 784.8v14.9M403.88 784.8v14.9M410.29 784.8v14.9M413.49 784.8v14.9M419.89 784.8v14.9M423.09 784.8v14.9M427.89 784.8v14.9M443.9 784.8v14.9M447.1 784.8v14.9M501.52 784.8v14.9M504.72 784.8v14.9M511.12 784.8v14.9M515.93 784.8v14.9" stroke="#979797" stroke-width="1.35" fill="none"/>
<path d="M315.85 784.8v14.9M327.05 784.8v14.9M344.66 784.8v14.9M360.67 784.8v14.9M370.27 784.8v14.9M399.08 784.8v14.9M434.29 784.8v14.9M439.1 784.8v14.9M453.5 784.8v14.9M458.3 784.8v14.9M461.5 784.8v14.9M466.31 784.8v14.9M471.11 784.8v14.9M475.91 784.8v14.9M480.71 784.8v14.9M487.11 784.8v14.9M490.32 784.8v14.9M495.12 784.8v14.9M520.73 784.8v14.9M531.93 784.8v14.9M536.73 784.8v14.9M543.14 784.8v14.9M549.54 784.8v14.9M551.14 784.8v14.9M555.94 784.8v14.9M559.14 784.8v14.9M560.74 784.8v14.9M565.54 784.8v14.9M571.95 784.8v14.9M576.75 784.8v14.9M581.55 784.8v14.9M584.75 784.8v14.9M587.95 784.8v14.9M592.75 784.8v14.9M597.56 784.8v14.9M602.36 784.8v14.9M605.56 784.8v14.9M611.96 784.8v14.9M615.16 784.8v14.9M621.57 784.8v14.9M624.77 784.8v14.9M629.57 784.8v14.9M634.37 784.8v14.9M639.17 784.8v14.9" stroke="#2F6DAE" stroke-width="1.35" fill="none"/>
<text class="lb" x="152.4" y="796.95" text-anchor="end">All</text>
<line x1="160.7" x2="160.7" y1="747.35" y2="802.45" stroke="#000" stroke-width="1.75"/>
<text class="st" transform="translate(673.6 774.9) rotate(90)" text-anchor="middle">F</text>
</g>
<g id="panelG">
<line x1="261.73" x2="261.73" y1="819.07" y2="856.82" stroke="#eeeeee" stroke-width="0.75"/>
<line x1="421.79" x2="421.79" y1="819.07" y2="856.82" stroke="#eeeeee" stroke-width="0.75"/>
<line x1="581.85" x2="581.85" y1="819.07" y2="856.82" stroke="#eeeeee" stroke-width="0.75"/>
<line x1="181.7" x2="181.7" y1="819.07" y2="856.82" stroke="#e5e5e5" stroke-width="1.4"/>
<line x1="341.76" x2="341.76" y1="819.07" y2="856.82" stroke="#e5e5e5" stroke-width="1.4"/>
<line x1="501.82" x2="501.82" y1="819.07" y2="856.82" stroke="#e5e5e5" stroke-width="1.4"/>
<line x1="661.88" x2="661.88" y1="819.07" y2="856.82" stroke="#e5e5e5" stroke-width="1.4"/>
<line x1="160.7" x2="665.3" y1="829.27" y2="829.27" stroke="#e5e5e5" stroke-width="1.4"/>
<line x1="160.7" x2="665.3" y1="846.62" y2="846.62" stroke="#e5e5e5" stroke-width="1.4"/>
<path d="M202.21 821.82v14.9M203.81 821.82v14.9M205.41 821.82v14.9M207.01 821.82v14.9M208.61 821.82v14.9M210.21 821.82v14.9M211.81 821.82v14.9M213.41 821.82v14.9M215.01 821.82v14.9M216.61 821.82v14.9M218.21 821.82v14.9M219.81 821.82v14.9M239.02 821.82v14.9M240.62 821.82v14.9M242.22 821.82v14.9M243.82 821.82v14.9M247.02 821.82v14.9M248.63 821.82v14.9M250.23 821.82v14.9M251.83 821.82v14.9M253.43 821.82v14.9M255.03 821.82v14.9M256.63 821.82v14.9M258.23 821.82v14.9M259.83 821.82v14.9M261.43 821.82v14.9M263.03 821.82v14.9M264.63 821.82v14.9M266.23 821.82v14.9M267.83 821.82v14.9M277.44 821.82v14.9M280.64 821.82v14.9M282.24 821.82v14.9M290.24 821.82v14.9M291.84 821.82v14.9M293.44 821.82v14.9M339.86 821.82v14.9M346.26 821.82v14.9M347.86 821.82v14.9M349.46 821.82v14.9M351.06 821.82v14.9M352.66 821.82v14.9M355.87 821.82v14.9M359.07 821.82v14.9M362.27 821.82v14.9M365.47 821.82v14.9M367.07 821.82v14.9M368.67 821.82v14.9M371.87 821.82v14.9M373.47 821.82v14.9M375.07 821.82v14.9M378.27 821.82v14.9M381.47 821.82v14.9M383.08 821.82v14.9M384.68 821.82v14.9M386.28 821.82v14.9M387.88 821.82v14.9M389.48 821.82v14.9M391.08 821.82v14.9M392.68 821.82v14.9M394.28 821.82v14.9M395.88 821.82v14.9M411.89 821.82v14.9M413.49 821.82v14.9M416.69 821.82v14.9M418.29 821.82v14.9M419.89 821.82v14.9M421.49 821.82v14.9M423.09 821.82v14.9M424.69 821.82v14.9M426.29 821.82v14.9M427.89 821.82v14.9M429.49 821.82v14.9M431.09 821.82v14.9" stroke="#979797" stroke-width="1.35" fill="none"/>
<path d="M357.47 821.82v14.9M360.67 821.82v14.9M363.87 821.82v14.9M370.27 821.82v14.9M376.67 821.82v14.9M379.87 821.82v14.9M397.48 821.82v14.9M399.08 821.82v14.9M400.68 821.82v14.9M405.48 821.82v14.9M432.69 821.82v14.9M434.29 821.82v14.9M435.9 821.82v14.9M437.5 821.82v14.9M439.1 821.82v14.9M440.7 821.82v14.9M451.9 821.82v14.9M453.5 821.82v14.9M455.1 821.82v14.9M456.7 821.82v14.9M458.3 821.82v14.9M459.9 821.82v14.9M461.5 821.82v14.9M463.11 821.82v14.9M464.71 821.82v14.9M466.31 821.82v14.9M467.91 821.82v14.9M469.51 821.82v14.9M471.11 821.82v14.9M472.71 821.82v14.9M474.31 821.82v14.9M475.91 821.82v14.9M477.51 821.82v14.9M479.11 821.82v14.9M519.13 821.82v14.9M523.93 821.82v14.9M525.53 821.82v14.9M528.73 821.82v14.9M533.53 821.82v14.9M535.13 821.82v14.9M536.73 821.82v14.9M538.33 821.82v14.9M541.54 821.82v14.9M543.14 821.82v14.9M544.74 821.82v14.9M546.34 821.82v14.9M547.94 821.82v14.9M549.54 821.82v14.9M551.14 821.82v14.9M552.74 821.82v14.9M554.34 821.82v14.9M555.94 821.82v14.9M557.54 821.82v14.9M559.14 821.82v14.9M560.74 821.82v14.9M562.34 821.82v14.9M563.94 821.82v14.9M565.54 821.82v14.9M578.35 821.82v14.9M587.95 821.82v14.9M589.55 821.82v14.9M591.15 821.82v14.9M592.75 821.82v14.9M594.35 821.82v14.9M595.96 821.82v14.9M597.56 821.82v14.9M599.16 821.82v14.9M600.76 821.82v14.9M602.36 821.82v14.9M603.96 821.82v14.9" stroke="#2F6DAE" stroke-width="1.35" fill="none"/>
<text class="lb" x="152.4" y="833.97" text-anchor="end">EU aggregated</text>
<path d="M183 839.17v14.9M184.6 839.17v14.9M186.2 839.17v14.9M187.8 839.17v14.9M189.4 839.17v14.9M191 839.17v14.9M192.6 839.17v14.9M194.2 839.17v14.9M195.81 839.17v14.9M197.41 839.17v14.9M199.01 839.17v14.9M200.61 839.17v14.9M221.41 839.17v14.9M223.02 839.17v14.9M224.62 839.17v14.9M226.22 839.17v14.9M227.82 839.17v14.9M229.42 839.17v14.9M231.02 839.17v14.9M232.62 839.17v14.9M234.22 839.17v14.9M235.82 839.17v14.9M237.42 839.17v14.9M245.42 839.17v14.9M269.43 839.17v14.9M271.03 839.17v14.9M272.63 839.17v14.9M274.23 839.17v14.9M275.84 839.17v14.9M279.04 839.17v14.9M283.84 839.17v14.9M285.44 839.17v14.9M287.04 839.17v14.9M288.64 839.17v14.9M295.04 839.17v14.9M296.64 839.17v14.9M298.24 839.17v14.9M299.84 839.17v14.9M301.44 839.17v14.9M303.05 839.17v14.9M304.65 839.17v14.9M306.25 839.17v14.9M307.85 839.17v14.9M309.45 839.17v14.9M311.05 839.17v14.9M314.25 839.17v14.9M317.45 839.17v14.9M320.65 839.17v14.9M322.25 839.17v14.9M323.85 839.17v14.9M325.45 839.17v14.9M331.86 839.17v14.9M333.46 839.17v14.9M335.06 839.17v14.9M336.66 839.17v14.9M338.26 839.17v14.9M341.46 839.17v14.9M402.28 839.17v14.9M403.88 839.17v14.9M407.08 839.17v14.9M408.69 839.17v14.9M410.29 839.17v14.9M415.09 839.17v14.9M442.3 839.17v14.9M443.9 839.17v14.9M445.5 839.17v14.9M447.1 839.17v14.9M448.7 839.17v14.9M450.3 839.17v14.9M499.92 839.17v14.9M501.52 839.17v14.9M503.12 839.17v14.9M504.72 839.17v14.9M506.32 839.17v14.9M507.92 839.17v14.9M509.52 839.17v14.9M511.12 839.17v14.9M512.72 839.17v14.9M514.32 839.17v14.9M515.93 839.17v14.9M517.53 839.17v14.9" stroke="#979797" stroke-width="1.35" fill="none"/>
<path d="M312.65 839.17v14.9M315.85 839.17v14.9M319.05 839.17v14.9M327.05 839.17v14.9M328.66 839.17v14.9M330.26 839.17v14.9M343.06 839.17v14.9M344.66 839.17v14.9M354.26 839.17v14.9M480.71 839.17v14.9M482.31 839.17v14.9M483.91 839.17v14.9M485.51 839.17v14.9M487.11 839.17v14.9M488.72 839.17v14.9M490.32 839.17v14.9M491.92 839.17v14.9M493.52 839.17v14.9M495.12 839.17v14.9M496.72 839.17v14.9M498.32 839.17v14.9M520.73 839.17v14.9M522.33 839.17v14.9M527.13 839.17v14.9M530.33 839.17v14.9M531.93 839.17v14.9M539.93 839.17v14.9M567.14 839.17v14.9M568.75 839.17v14.9M570.35 839.17v14.9M571.95 839.17v14.9M573.55 839.17v14.9M575.15 839.17v14.9M576.75 839.17v14.9M579.95 839.17v14.9M581.55 839.17v14.9M583.15 839.17v14.9M584.75 839.17v14.9M586.35 839.17v14.9M605.56 839.17v14.9M607.16 839.17v14.9M608.76 839.17v14.9M610.36 839.17v14.9M611.96 839.17v14.9M613.56 839.17v14.9M615.16 839.17v14.9M616.76 839.17v14.9M618.36 839.17v14.9M619.96 839.17v14.9M621.57 839.17v14.9M623.17 839.17v14.9M624.77 839.17v14.9M626.37 839.17v14.9M627.97 839.17v14.9M629.57 839.17v14.9M631.17 839.17v14.9M632.77 839.17v14.9M634.37 839.17v14.9M635.97 839.17v14.9M637.57 839.17v14.9M639.17 839.17v14.9M640.77 839.17v14.9M642.37 839.17v14.9" stroke="#2F6DAE" stroke-width="1.35" fill="none"/>
<text class="lb" x="152.4" y="851.32" text-anchor="end">Country-level data</text>
<path d="M160.7 819.07V856.82H665.3" fill="none" stroke="#000" stroke-width="1.75" stroke-linejoin="round"/>
<text class="st" transform="translate(673.6 837.95) rotate(90)" text-anchor="middle">G</text>
</g>
<text class="tk" x="181.7" y="874.2" text-anchor="middle">0</text>
<text class="tk" x="341.76" y="874.2" text-anchor="middle">100</text>
<text class="tk" x="501.82" y="874.2" text-anchor="middle">200</text>
<text class="tk" x="661.88" y="874.2" text-anchor="middle">300</text>
</svg></body></html>
